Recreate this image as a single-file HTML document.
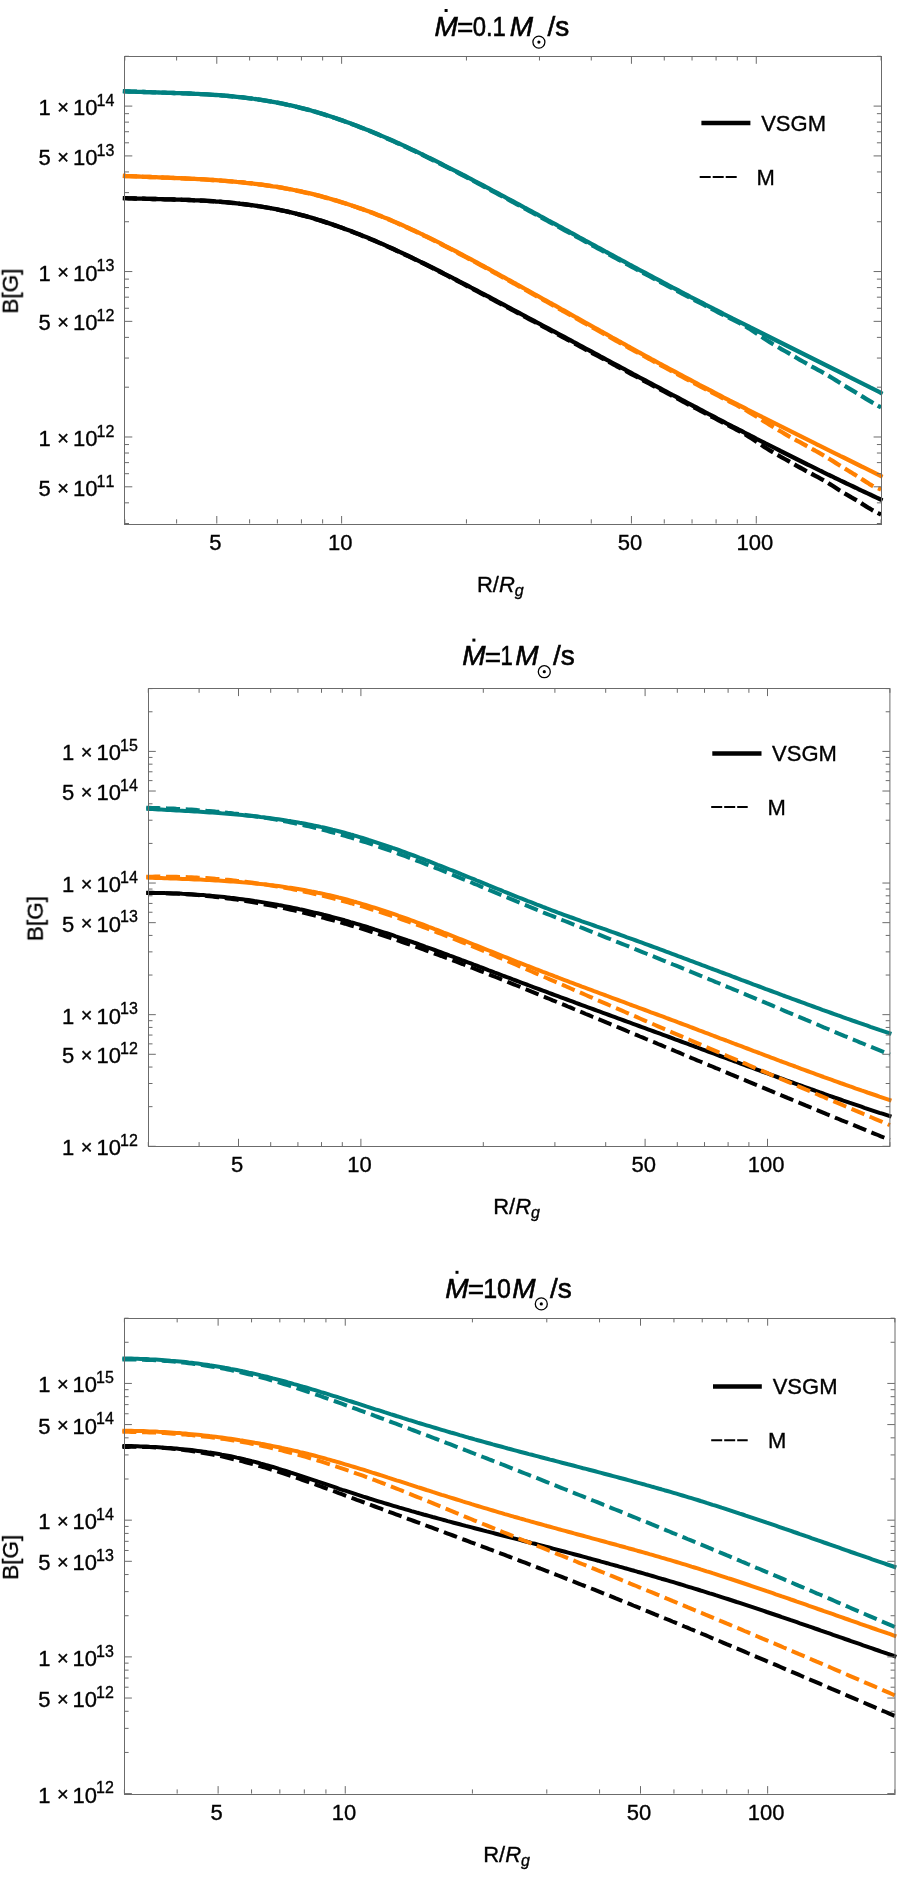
<!DOCTYPE html>
<html><head><meta charset="utf-8"><title>B vs R</title>
<style>html,body{margin:0;padding:0;background:#fff;width:900px;height:1877px;overflow:hidden} text{font-kerning:none;stroke:#000;stroke-width:0.35px} .tt text{stroke-width:0.6px}</style>
</head><body>
<svg width="900" height="1877" viewBox="0 0 900 1877" style="display:block">
<rect width="900" height="1877" fill="#fff"/>
<g opacity="0.999">
<defs><clipPath id="clip0"><rect x="122.3" y="53.3" width="761.3000000000001" height="473.2"/></clipPath></defs>
<g clip-path="url(#clip0)"><path d="M122.8,198.1 L125.8,198.2 L128.8,198.3 L131.8,198.4 L134.8,198.5 L137.8,198.6 L140.8,198.7 L143.8,198.7 L146.8,198.8 L149.8,198.9 L152.8,199.0 L155.8,199.0 L158.8,199.1 L161.8,199.2 L164.8,199.3 L167.8,199.3 L170.9,199.4 L173.9,199.5 L176.9,199.6 L179.9,199.7 L182.9,199.8 L185.9,199.9 L188.9,200.0 L191.9,200.1 L194.9,200.3 L197.9,200.4 L200.9,200.5 L203.9,200.7 L206.9,200.9 L209.9,201.0 L212.9,201.2 L215.9,201.5 L218.9,201.7 L221.9,201.9 L224.9,202.2 L227.9,202.4 L230.9,202.7 L233.9,203.0 L236.9,203.3 L239.9,203.7 L242.9,204.0 L245.9,204.4 L248.9,204.8 L251.9,205.2 L254.9,205.6 L257.9,206.0 L260.9,206.5 L263.9,207.0 L267.0,207.5 L270.0,208.0 L273.0,208.6 L276.0,209.2 L279.0,209.8 L282.0,210.4 L285.0,211.0 L288.0,211.7 L291.0,212.4 L294.0,213.1 L297.0,213.8 L300.0,214.6 L303.0,215.4 L306.0,216.2 L309.0,217.0 L312.0,217.9 L315.0,218.8 L318.0,219.7 L321.0,220.6 L324.0,221.6 L327.0,222.6 L330.0,223.6 L333.0,224.6 L336.0,225.6 L339.0,226.7 L342.0,227.8 L345.0,228.9 L348.0,230.0 L351.0,231.1 L354.0,232.3 L357.0,233.5 L360.0,234.6 L363.1,235.9 L366.1,237.1 L369.1,238.3 L372.1,239.6 L375.1,240.8 L378.1,242.1 L381.1,243.4 L384.1,244.8 L387.1,246.1 L390.1,247.4 L393.1,248.8 L396.1,250.2 L399.1,251.6 L402.1,253.0 L405.1,254.4 L408.1,255.8 L411.1,257.2 L414.1,258.7 L417.1,260.1 L420.1,261.6 L423.1,263.0 L426.1,264.5 L429.1,266.0 L432.1,267.5 L435.1,269.0 L438.1,270.5 L441.1,272.0 L444.1,273.6 L447.1,275.1 L450.1,276.6 L453.1,278.2 L456.2,279.7 L459.2,281.3 L462.2,282.9 L465.2,284.4 L468.2,286.0 L471.2,287.6 L474.2,289.1 L477.2,290.7 L480.2,292.3 L483.2,293.9 L486.2,295.5 L489.2,297.0 L492.2,298.6 L495.2,300.2 L498.2,301.8 L501.2,303.4 L504.2,305.0 L507.2,306.6 L510.2,308.2 L513.2,309.8 L516.2,311.4 L519.2,313.0 L522.2,314.6 L525.2,316.2 L528.2,317.8 L531.2,319.4 L534.2,321.0 L537.2,322.6 L540.2,324.2 L543.2,325.8 L546.2,327.4 L549.2,329.0 L552.3,330.6 L555.3,332.2 L558.3,333.8 L561.3,335.4 L564.3,337.0 L567.3,338.6 L570.3,340.2 L573.3,341.9 L576.3,343.5 L579.3,345.1 L582.3,346.7 L585.3,348.3 L588.3,349.9 L591.3,351.5 L594.3,353.1 L597.3,354.7 L600.3,356.4 L603.3,358.0 L606.3,359.6 L609.3,361.2 L612.3,362.8 L615.3,364.4 L618.3,366.0 L621.3,367.6 L624.3,369.2 L627.3,370.8 L630.3,372.4 L633.3,374.1 L636.3,375.7 L639.3,377.3 L642.3,378.9 L645.4,380.5 L648.4,382.1 L651.4,383.7 L654.4,385.3 L657.4,386.9 L660.4,388.5 L663.4,390.1 L666.4,391.7 L669.4,393.3 L672.4,394.9 L675.4,396.4 L678.4,398.0 L681.4,399.6 L684.4,401.2 L687.4,402.8 L690.4,404.4 L693.4,406.0 L696.4,407.5 L699.4,409.1 L702.4,410.7 L705.4,412.3 L708.4,413.9 L711.4,415.4 L714.4,417.0 L717.4,418.6 L720.4,420.1 L723.4,421.7 L726.4,423.3 L729.4,424.8 L732.4,426.4 L735.4,427.9 L738.4,429.5 L741.5,431.0 L744.5,432.6 L747.5,434.1 L750.5,435.7 L753.5,437.2 L756.5,438.8 L759.5,440.3 L762.5,441.8 L765.5,443.4 L768.5,444.9 L771.5,446.4 L774.5,447.9 L777.5,449.4 L780.5,451.0 L783.5,452.5 L786.5,454.0 L789.5,455.5 L792.5,457.0 L795.5,458.5 L798.5,460.0 L801.5,461.5 L804.5,463.0 L807.5,464.5 L810.5,465.9 L813.5,467.4 L816.5,468.9 L819.5,470.4 L822.5,471.8 L825.5,473.3 L828.5,474.8 L831.5,476.2 L834.5,477.7 L837.6,479.1 L840.6,480.6 L843.6,482.0 L846.6,483.5 L849.6,484.9 L852.6,486.3 L855.6,487.7 L858.6,489.2 L861.6,490.6 L864.6,492.0 L867.6,493.4 L870.6,494.8 L873.6,496.2 L876.6,497.6 L879.6,499.0 L882.6,500.4" fill="none" stroke="#000000" stroke-width="4.3" stroke-linejoin="round"/><path d="M122.8,175.8 L125.8,176.0 L128.8,176.1 L131.8,176.2 L134.8,176.4 L137.8,176.5 L140.8,176.6 L143.8,176.8 L146.8,176.9 L149.8,177.0 L152.8,177.1 L155.8,177.2 L158.8,177.4 L161.8,177.5 L164.8,177.6 L167.8,177.7 L170.9,177.8 L173.9,177.9 L176.9,178.1 L179.9,178.2 L182.9,178.3 L185.9,178.5 L188.9,178.6 L191.9,178.8 L194.9,178.9 L197.9,179.1 L200.9,179.2 L203.9,179.4 L206.9,179.6 L209.9,179.8 L212.9,180.0 L215.9,180.2 L218.9,180.4 L221.9,180.6 L224.9,180.8 L227.9,181.1 L230.9,181.3 L233.9,181.6 L236.9,181.9 L239.9,182.1 L242.9,182.4 L245.9,182.8 L248.9,183.1 L251.9,183.4 L254.9,183.8 L257.9,184.2 L260.9,184.5 L263.9,184.9 L267.0,185.4 L270.0,185.8 L273.0,186.3 L276.0,186.7 L279.0,187.2 L282.0,187.7 L285.0,188.3 L288.0,188.8 L291.0,189.4 L294.0,190.0 L297.0,190.6 L300.0,191.2 L303.0,191.9 L306.0,192.5 L309.0,193.2 L312.0,193.9 L315.0,194.7 L318.0,195.4 L321.0,196.2 L324.0,197.0 L327.0,197.8 L330.0,198.7 L333.0,199.6 L336.0,200.4 L339.0,201.3 L342.0,202.3 L345.0,203.2 L348.0,204.2 L351.0,205.2 L354.0,206.2 L357.0,207.2 L360.0,208.2 L363.1,209.3 L366.1,210.4 L369.1,211.5 L372.1,212.6 L375.1,213.8 L378.1,215.0 L381.1,216.1 L384.1,217.4 L387.1,218.6 L390.1,219.8 L393.1,221.1 L396.1,222.4 L399.1,223.7 L402.1,225.0 L405.1,226.4 L408.1,227.7 L411.1,229.1 L414.1,230.5 L417.1,231.9 L420.1,233.4 L423.1,234.8 L426.1,236.3 L429.1,237.7 L432.1,239.2 L435.1,240.7 L438.1,242.2 L441.1,243.7 L444.1,245.3 L447.1,246.8 L450.1,248.4 L453.1,249.9 L456.2,251.5 L459.2,253.1 L462.2,254.7 L465.2,256.3 L468.2,257.9 L471.2,259.5 L474.2,261.1 L477.2,262.7 L480.2,264.3 L483.2,265.9 L486.2,267.6 L489.2,269.2 L492.2,270.8 L495.2,272.5 L498.2,274.1 L501.2,275.8 L504.2,277.4 L507.2,279.1 L510.2,280.7 L513.2,282.4 L516.2,284.0 L519.2,285.7 L522.2,287.3 L525.2,289.0 L528.2,290.7 L531.2,292.3 L534.2,294.0 L537.2,295.7 L540.2,297.3 L543.2,299.0 L546.2,300.7 L549.2,302.4 L552.3,304.0 L555.3,305.7 L558.3,307.4 L561.3,309.1 L564.3,310.7 L567.3,312.4 L570.3,314.1 L573.3,315.8 L576.3,317.5 L579.3,319.1 L582.3,320.8 L585.3,322.5 L588.3,324.2 L591.3,325.8 L594.3,327.5 L597.3,329.2 L600.3,330.9 L603.3,332.5 L606.3,334.2 L609.3,335.9 L612.3,337.6 L615.3,339.2 L618.3,340.9 L621.3,342.5 L624.3,344.2 L627.3,345.9 L630.3,347.5 L633.3,349.2 L636.3,350.8 L639.3,352.5 L642.3,354.1 L645.4,355.8 L648.4,357.4 L651.4,359.1 L654.4,360.7 L657.4,362.3 L660.4,364.0 L663.4,365.6 L666.4,367.2 L669.4,368.8 L672.4,370.4 L675.4,372.0 L678.4,373.6 L681.4,375.2 L684.4,376.8 L687.4,378.4 L690.4,380.0 L693.4,381.6 L696.4,383.2 L699.4,384.8 L702.4,386.3 L705.4,387.9 L708.4,389.5 L711.4,391.0 L714.4,392.6 L717.4,394.2 L720.4,395.7 L723.4,397.3 L726.4,398.8 L729.4,400.4 L732.4,401.9 L735.4,403.4 L738.4,405.0 L741.5,406.5 L744.5,408.0 L747.5,409.6 L750.5,411.1 L753.5,412.6 L756.5,414.1 L759.5,415.6 L762.5,417.2 L765.5,418.7 L768.5,420.2 L771.5,421.7 L774.5,423.2 L777.5,424.7 L780.5,426.2 L783.5,427.7 L786.5,429.2 L789.5,430.7 L792.5,432.2 L795.5,433.7 L798.5,435.2 L801.5,436.7 L804.5,438.2 L807.5,439.7 L810.5,441.2 L813.5,442.7 L816.5,444.2 L819.5,445.6 L822.5,447.1 L825.5,448.6 L828.5,450.1 L831.5,451.6 L834.5,453.1 L837.6,454.6 L840.6,456.1 L843.6,457.5 L846.6,459.0 L849.6,460.5 L852.6,462.0 L855.6,463.5 L858.6,465.0 L861.6,466.5 L864.6,467.9 L867.6,469.4 L870.6,470.9 L873.6,472.4 L876.6,473.9 L879.6,475.4 L882.6,476.9" fill="none" stroke="#ff8000" stroke-width="4.3" stroke-linejoin="round"/><path d="M122.8,91.2 L125.8,91.4 L128.8,91.5 L131.8,91.6 L134.8,91.7 L137.8,91.8 L140.8,91.9 L143.8,92.0 L146.8,92.1 L149.8,92.2 L152.8,92.3 L155.8,92.4 L158.8,92.5 L161.8,92.6 L164.8,92.7 L167.8,92.8 L170.9,92.9 L173.9,93.0 L176.9,93.1 L179.9,93.2 L182.9,93.3 L185.9,93.4 L188.9,93.5 L191.9,93.6 L194.9,93.8 L197.9,93.9 L200.9,94.1 L203.9,94.2 L206.9,94.4 L209.9,94.6 L212.9,94.8 L215.9,95.0 L218.9,95.2 L221.9,95.4 L224.9,95.7 L227.9,95.9 L230.9,96.2 L233.9,96.5 L236.9,96.8 L239.9,97.1 L242.9,97.4 L245.9,97.8 L248.9,98.2 L251.9,98.5 L254.9,99.0 L257.9,99.4 L260.9,99.8 L263.9,100.3 L267.0,100.8 L270.0,101.3 L273.0,101.8 L276.0,102.3 L279.0,102.9 L282.0,103.5 L285.0,104.1 L288.0,104.8 L291.0,105.4 L294.0,106.1 L297.0,106.8 L300.0,107.6 L303.0,108.3 L306.0,109.1 L309.0,109.9 L312.0,110.8 L315.0,111.6 L318.0,112.5 L321.0,113.4 L324.0,114.3 L327.0,115.3 L330.0,116.2 L333.0,117.2 L336.0,118.2 L339.0,119.3 L342.0,120.3 L345.0,121.4 L348.0,122.5 L351.0,123.6 L354.0,124.7 L357.0,125.8 L360.0,127.0 L363.1,128.2 L366.1,129.4 L369.1,130.6 L372.1,131.8 L375.1,133.0 L378.1,134.3 L381.1,135.6 L384.1,136.9 L387.1,138.2 L390.1,139.5 L393.1,140.8 L396.1,142.2 L399.1,143.5 L402.1,144.9 L405.1,146.3 L408.1,147.7 L411.1,149.1 L414.1,150.5 L417.1,151.9 L420.1,153.4 L423.1,154.8 L426.1,156.3 L429.1,157.8 L432.1,159.2 L435.1,160.7 L438.1,162.2 L441.1,163.7 L444.1,165.3 L447.1,166.8 L450.1,168.3 L453.1,169.8 L456.2,171.4 L459.2,172.9 L462.2,174.5 L465.2,176.0 L468.2,177.6 L471.2,179.2 L474.2,180.8 L477.2,182.3 L480.2,183.9 L483.2,185.5 L486.2,187.1 L489.2,188.7 L492.2,190.3 L495.2,191.9 L498.2,193.5 L501.2,195.1 L504.2,196.7 L507.2,198.3 L510.2,199.9 L513.2,201.5 L516.2,203.1 L519.2,204.7 L522.2,206.3 L525.2,208.0 L528.2,209.6 L531.2,211.2 L534.2,212.8 L537.2,214.4 L540.2,216.1 L543.2,217.7 L546.2,219.3 L549.2,221.0 L552.3,222.6 L555.3,224.2 L558.3,225.9 L561.3,227.5 L564.3,229.1 L567.3,230.7 L570.3,232.4 L573.3,234.0 L576.3,235.6 L579.3,237.3 L582.3,238.9 L585.3,240.6 L588.3,242.2 L591.3,243.8 L594.3,245.4 L597.3,247.1 L600.3,248.7 L603.3,250.3 L606.3,252.0 L609.3,253.6 L612.3,255.2 L615.3,256.8 L618.3,258.5 L621.3,260.1 L624.3,261.7 L627.3,263.3 L630.3,265.0 L633.3,266.6 L636.3,268.2 L639.3,269.8 L642.3,271.4 L645.4,273.0 L648.4,274.6 L651.4,276.2 L654.4,277.8 L657.4,279.4 L660.4,281.0 L663.4,282.6 L666.4,284.2 L669.4,285.8 L672.4,287.4 L675.4,288.9 L678.4,290.5 L681.4,292.1 L684.4,293.7 L687.4,295.2 L690.4,296.8 L693.4,298.3 L696.4,299.9 L699.4,301.5 L702.4,303.0 L705.4,304.6 L708.4,306.1 L711.4,307.6 L714.4,309.2 L717.4,310.7 L720.4,312.2 L723.4,313.8 L726.4,315.3 L729.4,316.8 L732.4,318.4 L735.4,319.9 L738.4,321.4 L741.5,322.9 L744.5,324.4 L747.5,325.9 L750.5,327.5 L753.5,329.0 L756.5,330.5 L759.5,332.0 L762.5,333.5 L765.5,335.0 L768.5,336.5 L771.5,338.0 L774.5,339.5 L777.5,341.0 L780.5,342.5 L783.5,344.0 L786.5,345.5 L789.5,347.0 L792.5,348.5 L795.5,350.0 L798.5,351.5 L801.5,353.0 L804.5,354.5 L807.5,356.0 L810.5,357.5 L813.5,359.0 L816.5,360.5 L819.5,362.0 L822.5,363.5 L825.5,365.0 L828.5,366.5 L831.5,368.0 L834.5,369.5 L837.6,371.0 L840.6,372.5 L843.6,374.0 L846.6,375.5 L849.6,377.1 L852.6,378.6 L855.6,380.1 L858.6,381.6 L861.6,383.1 L864.6,384.6 L867.6,386.1 L870.6,387.7 L873.6,389.2 L876.6,390.7 L879.6,392.2 L882.6,393.8" fill="none" stroke="#008080" stroke-width="4.3" stroke-linejoin="round"/><path d="M122.8,198.1 L125.8,198.2 L128.8,198.3 L131.8,198.4 L134.8,198.5 L137.8,198.6 L140.9,198.7 L143.9,198.7 L146.9,198.8 L149.9,198.9 L152.9,199.0 L155.9,199.0 L158.9,199.1 L161.9,199.2 L164.9,199.3 L167.9,199.3 L170.9,199.4 L174.0,199.5 L177.0,199.6 L180.0,199.7 L183.0,199.8 L186.0,199.9 L189.0,200.0 L192.0,200.2 L195.0,200.3 L198.0,200.4 L201.0,200.6 L204.0,200.7 L207.1,200.9 L210.1,201.1 L213.1,201.3 L216.1,201.5 L219.1,201.7 L222.1,202.0 L225.1,202.2 L228.1,202.5 L231.1,202.8 L234.1,203.1 L237.1,203.4 L240.2,203.8 L243.2,204.1 L246.2,204.5 L249.2,204.9 L252.2,205.3 L255.2,205.7 L258.2,206.2 L261.2,206.6 L264.2,207.1 L267.2,207.7 L270.2,208.2 L273.3,208.7 L276.3,209.3 L279.3,209.9 L282.3,210.6 L285.3,211.2 L288.3,211.9 L291.3,212.6 L294.3,213.3 L297.3,214.0 L300.3,214.8 L303.3,215.6 L306.4,216.4 L309.4,217.3 L312.4,218.2 L315.4,219.1 L318.4,220.0 L321.4,220.9 L324.4,221.9 L327.4,222.9 L330.4,223.9 L333.4,224.9 L336.4,226.0 L339.5,227.0 L342.5,228.1 L345.5,229.2 L348.5,230.4 L351.5,231.5 L354.5,232.7 L357.5,233.8 L360.5,235.0 L363.5,236.3 L366.5,237.5 L369.5,238.8 L372.6,240.0 L375.6,241.3 L378.6,242.6 L381.6,243.9 L384.6,245.3 L387.6,246.6 L390.6,248.0 L393.6,249.3 L396.6,250.7 L399.6,252.1 L402.6,253.5 L405.7,255.0 L408.7,256.4 L411.7,257.8 L414.7,259.3 L417.7,260.8 L420.7,262.2 L423.7,263.7 L426.7,265.2 L429.7,266.7 L432.7,268.2 L435.7,269.8 L438.8,271.3 L441.8,272.8 L444.8,274.4 L447.8,275.9 L450.8,277.5 L453.8,279.0 L456.8,280.6 L459.8,282.2 L462.8,283.7 L465.8,285.3 L468.8,286.9 L471.9,288.5 L474.9,290.1 L477.9,291.7 L480.9,293.3 L483.9,294.9 L486.9,296.5 L489.9,298.1 L492.9,299.7 L495.9,301.3 L498.9,302.9 L502.0,304.5 L505.0,306.1 L508.0,307.7 L511.0,309.3 L514.0,310.9 L517.0,312.5 L520.0,314.1 L523.0,315.7 L526.0,317.4 L529.0,319.0 L532.0,320.6 L535.1,322.2 L538.1,323.8 L541.1,325.4 L544.1,327.1 L547.1,328.7 L550.1,330.3 L553.1,331.9 L556.1,333.5 L559.1,335.2 L562.1,336.8 L565.1,338.4 L568.2,340.0 L571.2,341.7 L574.2,343.3 L577.2,344.9 L580.2,346.5 L583.2,348.1 L586.2,349.8 L589.2,351.4 L592.2,353.0 L595.2,354.6 L598.2,356.2 L601.3,357.9 L604.3,359.5 L607.3,361.1 L610.3,362.7 L613.3,364.3 L616.3,366.0 L619.3,367.6 L622.3,369.2 L625.3,370.8 L628.3,372.4 L631.3,374.0 L634.4,375.6 L637.4,377.2 L640.4,378.9 L643.4,380.5 L646.4,382.1 L649.4,383.7 L652.4,385.3 L655.4,386.9 L658.4,388.5 L661.4,390.1 L664.4,391.7 L667.5,393.3 L670.5,394.9 L673.5,396.5 L676.5,398.1 L679.5,399.7 L682.5,401.3 L685.5,402.9 L688.5,404.5 L691.5,406.1 L694.5,407.7 L697.5,409.2 L700.6,410.8 L703.6,412.4 L706.6,414.0 L709.6,415.6 L712.6,417.2 L715.6,418.7 L718.6,420.3 L721.6,421.9 L724.6,423.5 L727.6,425.0 L730.6,426.6 L733.7,428.2 L736.7,429.8 L739.7,431.3 L742.7,432.9 L745.7,434.7 L748.7,436.6 L751.7,438.5 L754.7,440.5 L757.7,442.5 L760.7,444.5 L763.7,446.6 L766.8,448.5 L769.8,450.4 L772.8,452.2 L775.8,454.0 L778.8,455.7 L781.8,457.3 L784.8,459.0 L787.8,460.7 L790.8,462.4 L793.8,464.1 L796.8,465.8 L799.9,467.5 L802.9,469.1 L805.9,470.8 L808.9,472.4 L811.9,474.0 L814.9,475.6 L817.9,477.2 L820.9,478.8 L823.9,480.5 L826.9,482.2 L829.9,484.1 L833.0,486.0 L836.0,488.0 L839.0,490.0 L842.0,491.8 L845.0,493.6 L848.0,495.3 L851.0,497.1 L854.0,498.8 L857.0,500.6 L860.0,502.4 L863.0,504.4 L866.1,506.3 L869.1,508.2 L872.1,510.0 L875.1,511.6 L878.1,513.1 L881.1,514.5" fill="none" stroke="#000000" stroke-width="4.3" stroke-dasharray="14.2 5.1" stroke-linejoin="round"/><path d="M122.8,175.8 L125.8,176.0 L128.8,176.1 L131.8,176.3 L134.8,176.4 L137.8,176.5 L140.9,176.6 L143.9,176.8 L146.9,176.9 L149.9,177.0 L152.9,177.1 L155.9,177.2 L158.9,177.4 L161.9,177.5 L164.9,177.6 L167.9,177.7 L170.9,177.8 L174.0,178.0 L177.0,178.1 L180.0,178.2 L183.0,178.4 L186.0,178.5 L189.0,178.6 L192.0,178.8 L195.0,178.9 L198.0,179.1 L201.0,179.3 L204.0,179.4 L207.1,179.6 L210.1,179.8 L213.1,180.0 L216.1,180.2 L219.1,180.4 L222.1,180.7 L225.1,180.9 L228.1,181.1 L231.1,181.4 L234.1,181.7 L237.1,181.9 L240.2,182.2 L243.2,182.5 L246.2,182.9 L249.2,183.2 L252.2,183.5 L255.2,183.9 L258.2,184.3 L261.2,184.7 L264.2,185.1 L267.2,185.5 L270.2,185.9 L273.3,186.4 L276.3,186.9 L279.3,187.4 L282.3,187.9 L285.3,188.4 L288.3,189.0 L291.3,189.6 L294.3,190.2 L297.3,190.8 L300.3,191.4 L303.3,192.1 L306.4,192.8 L309.4,193.5 L312.4,194.2 L315.4,194.9 L318.4,195.7 L321.4,196.5 L324.4,197.3 L327.4,198.1 L330.4,199.0 L333.4,199.9 L336.4,200.7 L339.5,201.7 L342.5,202.6 L345.5,203.5 L348.5,204.5 L351.5,205.5 L354.5,206.5 L357.5,207.6 L360.5,208.6 L363.5,209.7 L366.5,210.8 L369.5,211.9 L372.6,213.1 L375.6,214.2 L378.6,215.4 L381.6,216.6 L384.6,217.8 L387.6,219.1 L390.6,220.3 L393.6,221.6 L396.6,222.9 L399.6,224.3 L402.6,225.6 L405.7,227.0 L408.7,228.3 L411.7,229.7 L414.7,231.1 L417.7,232.6 L420.7,234.0 L423.7,235.5 L426.7,236.9 L429.7,238.4 L432.7,239.9 L435.7,241.4 L438.8,243.0 L441.8,244.5 L444.8,246.1 L447.8,247.6 L450.8,249.2 L453.8,250.8 L456.8,252.4 L459.8,254.0 L462.8,255.6 L465.8,257.2 L468.8,258.8 L471.9,260.4 L474.9,262.0 L477.9,263.7 L480.9,265.3 L483.9,266.9 L486.9,268.6 L489.9,270.2 L492.9,271.9 L495.9,273.5 L498.9,275.2 L502.0,276.9 L505.0,278.5 L508.0,280.2 L511.0,281.9 L514.0,283.5 L517.0,285.2 L520.0,286.9 L523.0,288.5 L526.0,290.2 L529.0,291.9 L532.0,293.6 L535.1,295.3 L538.1,297.0 L541.1,298.6 L544.1,300.3 L547.1,302.0 L550.1,303.7 L553.1,305.4 L556.1,307.1 L559.1,308.8 L562.1,310.5 L565.1,312.1 L568.2,313.8 L571.2,315.5 L574.2,317.2 L577.2,318.9 L580.2,320.6 L583.2,322.3 L586.2,324.0 L589.2,325.7 L592.2,327.3 L595.2,329.0 L598.2,330.7 L601.3,332.4 L604.3,334.1 L607.3,335.8 L610.3,337.4 L613.3,339.1 L616.3,340.8 L619.3,342.5 L622.3,344.1 L625.3,345.8 L628.3,347.5 L631.3,349.1 L634.4,350.8 L637.4,352.4 L640.4,354.1 L643.4,355.7 L646.4,357.4 L649.4,359.0 L652.4,360.7 L655.4,362.3 L658.4,364.0 L661.4,365.6 L664.4,367.2 L667.5,368.8 L670.5,370.5 L673.5,372.1 L676.5,373.7 L679.5,375.3 L682.5,376.9 L685.5,378.5 L688.5,380.1 L691.5,381.7 L694.5,383.3 L697.5,384.9 L700.6,386.5 L703.6,388.1 L706.6,389.6 L709.6,391.2 L712.6,392.8 L715.6,394.3 L718.6,395.9 L721.6,397.5 L724.6,399.0 L727.6,400.6 L730.6,402.1 L733.7,403.7 L736.7,405.2 L739.7,406.8 L742.7,408.4 L745.7,410.0 L748.7,411.8 L751.7,413.6 L754.7,415.4 L757.7,417.3 L760.7,419.2 L763.7,421.1 L766.8,423.0 L769.8,424.9 L772.8,426.7 L775.8,428.5 L778.8,430.3 L781.8,432.0 L784.8,433.8 L787.8,435.6 L790.8,437.3 L793.8,438.9 L796.8,440.6 L799.9,442.2 L802.9,443.9 L805.9,445.5 L808.9,447.2 L811.9,448.9 L814.9,450.5 L817.9,452.2 L820.9,453.9 L823.9,455.6 L826.9,457.4 L829.9,459.3 L833.0,461.2 L836.0,463.1 L839.0,465.0 L842.0,466.9 L845.0,468.7 L848.0,470.5 L851.0,472.3 L854.0,474.2 L857.0,476.0 L860.0,477.9 L863.0,479.9 L866.1,481.9 L869.1,483.8 L872.1,485.6 L875.1,487.2 L878.1,488.3 L881.1,489.5" fill="none" stroke="#ff8000" stroke-width="4.3" stroke-dasharray="14.2 5.1" stroke-linejoin="round"/><path d="M122.8,91.2 L125.8,91.4 L128.8,91.5 L131.8,91.6 L134.8,91.7 L137.8,91.8 L140.9,91.9 L143.9,92.0 L146.9,92.1 L149.9,92.2 L152.9,92.3 L155.9,92.4 L158.9,92.5 L161.9,92.6 L164.9,92.7 L167.9,92.8 L170.9,92.9 L174.0,93.0 L177.0,93.1 L180.0,93.2 L183.0,93.3 L186.0,93.4 L189.0,93.5 L192.0,93.7 L195.0,93.8 L198.0,93.9 L201.0,94.1 L204.0,94.3 L207.1,94.4 L210.1,94.6 L213.1,94.8 L216.1,95.0 L219.1,95.2 L222.1,95.5 L225.1,95.7 L228.1,96.0 L231.1,96.3 L234.1,96.6 L237.1,96.9 L240.2,97.2 L243.2,97.5 L246.2,97.9 L249.2,98.3 L252.2,98.7 L255.2,99.1 L258.2,99.5 L261.2,99.9 L264.2,100.4 L267.2,100.9 L270.2,101.4 L273.3,102.0 L276.3,102.5 L279.3,103.1 L282.3,103.7 L285.3,104.3 L288.3,105.0 L291.3,105.6 L294.3,106.3 L297.3,107.0 L300.3,107.8 L303.3,108.6 L306.4,109.4 L309.4,110.2 L312.4,111.0 L315.4,111.9 L318.4,112.8 L321.4,113.7 L324.4,114.6 L327.4,115.6 L330.4,116.5 L333.4,117.5 L336.4,118.5 L339.5,119.6 L342.5,120.6 L345.5,121.7 L348.5,122.8 L351.5,123.9 L354.5,125.1 L357.5,126.2 L360.5,127.4 L363.5,128.6 L366.5,129.8 L369.5,131.0 L372.6,132.2 L375.6,133.5 L378.6,134.8 L381.6,136.1 L384.6,137.4 L387.6,138.7 L390.6,140.0 L393.6,141.4 L396.6,142.7 L399.6,144.1 L402.6,145.5 L405.7,146.9 L408.7,148.3 L411.7,149.7 L414.7,151.1 L417.7,152.6 L420.7,154.0 L423.7,155.5 L426.7,157.0 L429.7,158.5 L432.7,160.0 L435.7,161.5 L438.8,163.0 L441.8,164.5 L444.8,166.0 L447.8,167.6 L450.8,169.1 L453.8,170.7 L456.8,172.2 L459.8,173.8 L462.8,175.4 L465.8,176.9 L468.8,178.5 L471.9,180.1 L474.9,181.7 L477.9,183.3 L480.9,184.9 L483.9,186.5 L486.9,188.1 L489.9,189.7 L492.9,191.3 L495.9,192.9 L498.9,194.5 L502.0,196.2 L505.0,197.8 L508.0,199.4 L511.0,201.0 L514.0,202.6 L517.0,204.3 L520.0,205.9 L523.0,207.5 L526.0,209.2 L529.0,210.8 L532.0,212.4 L535.1,214.1 L538.1,215.7 L541.1,217.4 L544.1,219.0 L547.1,220.6 L550.1,222.3 L553.1,223.9 L556.1,225.6 L559.1,227.2 L562.1,228.9 L565.1,230.5 L568.2,232.2 L571.2,233.8 L574.2,235.4 L577.2,237.1 L580.2,238.7 L583.2,240.4 L586.2,242.0 L589.2,243.7 L592.2,245.3 L595.2,246.9 L598.2,248.6 L601.3,250.2 L604.3,251.9 L607.3,253.5 L610.3,255.1 L613.3,256.8 L616.3,258.4 L619.3,260.0 L622.3,261.7 L625.3,263.3 L628.3,264.9 L631.3,266.5 L634.4,268.2 L637.4,269.8 L640.4,271.4 L643.4,273.0 L646.4,274.6 L649.4,276.2 L652.4,277.8 L655.4,279.4 L658.4,281.0 L661.4,282.6 L664.4,284.2 L667.5,285.8 L670.5,287.4 L673.5,289.0 L676.5,290.6 L679.5,292.2 L682.5,293.8 L685.5,295.3 L688.5,296.9 L691.5,298.5 L694.5,300.0 L697.5,301.6 L700.6,303.2 L703.6,304.7 L706.6,306.3 L709.6,307.8 L712.6,309.4 L715.6,310.9 L718.6,312.5 L721.6,314.0 L724.6,315.5 L727.6,317.1 L730.6,318.6 L733.7,320.1 L736.7,321.7 L739.7,323.2 L742.7,324.8 L745.7,326.5 L748.7,328.3 L751.7,330.2 L754.7,332.2 L757.7,334.2 L760.7,336.2 L763.7,338.2 L766.8,340.2 L769.8,342.1 L772.8,344.0 L775.8,345.8 L778.8,347.5 L781.8,349.3 L784.8,351.0 L787.8,352.7 L790.8,354.5 L793.8,356.2 L796.8,358.0 L799.9,359.8 L802.9,361.5 L805.9,363.2 L808.9,364.9 L811.9,366.6 L814.9,368.2 L817.9,369.8 L820.9,371.4 L823.9,373.1 L826.9,374.8 L829.9,376.6 L833.0,378.5 L836.0,380.4 L839.0,382.3 L842.0,384.2 L845.0,386.0 L848.0,387.8 L851.0,389.6 L854.0,391.4 L857.0,393.2 L860.0,395.1 L863.0,396.9 L866.1,398.8 L869.1,400.6 L872.1,402.4 L875.1,404.1 L878.1,405.8 L881.1,407.4" fill="none" stroke="#008080" stroke-width="4.3" stroke-dasharray="14.2 5.1" stroke-linejoin="round"/></g>
<rect x="124.5" y="56.5" width="757.00" height="468.00" fill="none" stroke="#6b6b6b" stroke-width="1"/>
<line x1="124.80" y1="523.5" x2="124.80" y2="519.3" stroke="#6b6b6b" stroke-width="1"/><line x1="124.80" y1="56.3" x2="124.80" y2="60.5" stroke="#6b6b6b" stroke-width="1"/><line x1="176.61" y1="523.5" x2="176.61" y2="519.3" stroke="#6b6b6b" stroke-width="1"/><line x1="176.61" y1="56.3" x2="176.61" y2="60.5" stroke="#6b6b6b" stroke-width="1"/><line x1="216.79" y1="523.5" x2="216.79" y2="516.0" stroke="#6b6b6b" stroke-width="1"/><line x1="216.79" y1="56.3" x2="216.79" y2="63.8" stroke="#6b6b6b" stroke-width="1"/><line x1="249.62" y1="523.5" x2="249.62" y2="519.3" stroke="#6b6b6b" stroke-width="1"/><line x1="249.62" y1="56.3" x2="249.62" y2="60.5" stroke="#6b6b6b" stroke-width="1"/><line x1="277.38" y1="523.5" x2="277.38" y2="519.3" stroke="#6b6b6b" stroke-width="1"/><line x1="277.38" y1="56.3" x2="277.38" y2="60.5" stroke="#6b6b6b" stroke-width="1"/><line x1="301.43" y1="523.5" x2="301.43" y2="519.3" stroke="#6b6b6b" stroke-width="1"/><line x1="301.43" y1="56.3" x2="301.43" y2="60.5" stroke="#6b6b6b" stroke-width="1"/><line x1="322.64" y1="523.5" x2="322.64" y2="519.3" stroke="#6b6b6b" stroke-width="1"/><line x1="322.64" y1="56.3" x2="322.64" y2="60.5" stroke="#6b6b6b" stroke-width="1"/><line x1="341.62" y1="523.5" x2="341.62" y2="516.0" stroke="#6b6b6b" stroke-width="1"/><line x1="341.62" y1="56.3" x2="341.62" y2="63.8" stroke="#6b6b6b" stroke-width="1"/><line x1="466.44" y1="523.5" x2="466.44" y2="519.3" stroke="#6b6b6b" stroke-width="1"/><line x1="466.44" y1="56.3" x2="466.44" y2="60.5" stroke="#6b6b6b" stroke-width="1"/><line x1="539.46" y1="523.5" x2="539.46" y2="519.3" stroke="#6b6b6b" stroke-width="1"/><line x1="539.46" y1="56.3" x2="539.46" y2="60.5" stroke="#6b6b6b" stroke-width="1"/><line x1="591.27" y1="523.5" x2="591.27" y2="519.3" stroke="#6b6b6b" stroke-width="1"/><line x1="591.27" y1="56.3" x2="591.27" y2="60.5" stroke="#6b6b6b" stroke-width="1"/><line x1="631.45" y1="523.5" x2="631.45" y2="516.0" stroke="#6b6b6b" stroke-width="1"/><line x1="631.45" y1="56.3" x2="631.45" y2="63.8" stroke="#6b6b6b" stroke-width="1"/><line x1="664.28" y1="523.5" x2="664.28" y2="519.3" stroke="#6b6b6b" stroke-width="1"/><line x1="664.28" y1="56.3" x2="664.28" y2="60.5" stroke="#6b6b6b" stroke-width="1"/><line x1="692.04" y1="523.5" x2="692.04" y2="519.3" stroke="#6b6b6b" stroke-width="1"/><line x1="692.04" y1="56.3" x2="692.04" y2="60.5" stroke="#6b6b6b" stroke-width="1"/><line x1="716.09" y1="523.5" x2="716.09" y2="519.3" stroke="#6b6b6b" stroke-width="1"/><line x1="716.09" y1="56.3" x2="716.09" y2="60.5" stroke="#6b6b6b" stroke-width="1"/><line x1="737.30" y1="523.5" x2="737.30" y2="519.3" stroke="#6b6b6b" stroke-width="1"/><line x1="737.30" y1="56.3" x2="737.30" y2="60.5" stroke="#6b6b6b" stroke-width="1"/><line x1="756.28" y1="523.5" x2="756.28" y2="516.0" stroke="#6b6b6b" stroke-width="1"/><line x1="756.28" y1="56.3" x2="756.28" y2="63.8" stroke="#6b6b6b" stroke-width="1"/><line x1="881.10" y1="523.5" x2="881.10" y2="519.3" stroke="#6b6b6b" stroke-width="1"/><line x1="881.10" y1="56.3" x2="881.10" y2="60.5" stroke="#6b6b6b" stroke-width="1"/><line x1="124.8" y1="523.50" x2="129.0" y2="523.50" stroke="#6b6b6b" stroke-width="1"/><line x1="881.1" y1="523.50" x2="876.9" y2="523.50" stroke="#6b6b6b" stroke-width="1"/><line x1="124.8" y1="502.83" x2="129.0" y2="502.83" stroke="#6b6b6b" stroke-width="1"/><line x1="881.1" y1="502.83" x2="876.9" y2="502.83" stroke="#6b6b6b" stroke-width="1"/><line x1="124.8" y1="486.80" x2="132.3" y2="486.80" stroke="#6b6b6b" stroke-width="1"/><line x1="881.1" y1="486.80" x2="873.6" y2="486.80" stroke="#6b6b6b" stroke-width="1"/><line x1="124.8" y1="473.70" x2="129.0" y2="473.70" stroke="#6b6b6b" stroke-width="1"/><line x1="881.1" y1="473.70" x2="876.9" y2="473.70" stroke="#6b6b6b" stroke-width="1"/><line x1="124.8" y1="462.62" x2="129.0" y2="462.62" stroke="#6b6b6b" stroke-width="1"/><line x1="881.1" y1="462.62" x2="876.9" y2="462.62" stroke="#6b6b6b" stroke-width="1"/><line x1="124.8" y1="453.03" x2="129.0" y2="453.03" stroke="#6b6b6b" stroke-width="1"/><line x1="881.1" y1="453.03" x2="876.9" y2="453.03" stroke="#6b6b6b" stroke-width="1"/><line x1="124.8" y1="444.56" x2="129.0" y2="444.56" stroke="#6b6b6b" stroke-width="1"/><line x1="881.1" y1="444.56" x2="876.9" y2="444.56" stroke="#6b6b6b" stroke-width="1"/><line x1="124.8" y1="436.99" x2="132.3" y2="436.99" stroke="#6b6b6b" stroke-width="1"/><line x1="881.1" y1="436.99" x2="873.6" y2="436.99" stroke="#6b6b6b" stroke-width="1"/><line x1="124.8" y1="387.19" x2="129.0" y2="387.19" stroke="#6b6b6b" stroke-width="1"/><line x1="881.1" y1="387.19" x2="876.9" y2="387.19" stroke="#6b6b6b" stroke-width="1"/><line x1="124.8" y1="358.06" x2="129.0" y2="358.06" stroke="#6b6b6b" stroke-width="1"/><line x1="881.1" y1="358.06" x2="876.9" y2="358.06" stroke="#6b6b6b" stroke-width="1"/><line x1="124.8" y1="337.39" x2="129.0" y2="337.39" stroke="#6b6b6b" stroke-width="1"/><line x1="881.1" y1="337.39" x2="876.9" y2="337.39" stroke="#6b6b6b" stroke-width="1"/><line x1="124.8" y1="321.35" x2="132.3" y2="321.35" stroke="#6b6b6b" stroke-width="1"/><line x1="881.1" y1="321.35" x2="873.6" y2="321.35" stroke="#6b6b6b" stroke-width="1"/><line x1="124.8" y1="308.25" x2="129.0" y2="308.25" stroke="#6b6b6b" stroke-width="1"/><line x1="881.1" y1="308.25" x2="876.9" y2="308.25" stroke="#6b6b6b" stroke-width="1"/><line x1="124.8" y1="297.18" x2="129.0" y2="297.18" stroke="#6b6b6b" stroke-width="1"/><line x1="881.1" y1="297.18" x2="876.9" y2="297.18" stroke="#6b6b6b" stroke-width="1"/><line x1="124.8" y1="287.58" x2="129.0" y2="287.58" stroke="#6b6b6b" stroke-width="1"/><line x1="881.1" y1="287.58" x2="876.9" y2="287.58" stroke="#6b6b6b" stroke-width="1"/><line x1="124.8" y1="279.12" x2="129.0" y2="279.12" stroke="#6b6b6b" stroke-width="1"/><line x1="881.1" y1="279.12" x2="876.9" y2="279.12" stroke="#6b6b6b" stroke-width="1"/><line x1="124.8" y1="271.55" x2="132.3" y2="271.55" stroke="#6b6b6b" stroke-width="1"/><line x1="881.1" y1="271.55" x2="873.6" y2="271.55" stroke="#6b6b6b" stroke-width="1"/><line x1="124.8" y1="221.74" x2="129.0" y2="221.74" stroke="#6b6b6b" stroke-width="1"/><line x1="881.1" y1="221.74" x2="876.9" y2="221.74" stroke="#6b6b6b" stroke-width="1"/><line x1="124.8" y1="192.61" x2="129.0" y2="192.61" stroke="#6b6b6b" stroke-width="1"/><line x1="881.1" y1="192.61" x2="876.9" y2="192.61" stroke="#6b6b6b" stroke-width="1"/><line x1="124.8" y1="171.94" x2="129.0" y2="171.94" stroke="#6b6b6b" stroke-width="1"/><line x1="881.1" y1="171.94" x2="876.9" y2="171.94" stroke="#6b6b6b" stroke-width="1"/><line x1="124.8" y1="155.91" x2="132.3" y2="155.91" stroke="#6b6b6b" stroke-width="1"/><line x1="881.1" y1="155.91" x2="873.6" y2="155.91" stroke="#6b6b6b" stroke-width="1"/><line x1="124.8" y1="142.81" x2="129.0" y2="142.81" stroke="#6b6b6b" stroke-width="1"/><line x1="881.1" y1="142.81" x2="876.9" y2="142.81" stroke="#6b6b6b" stroke-width="1"/><line x1="124.8" y1="131.73" x2="129.0" y2="131.73" stroke="#6b6b6b" stroke-width="1"/><line x1="881.1" y1="131.73" x2="876.9" y2="131.73" stroke="#6b6b6b" stroke-width="1"/><line x1="124.8" y1="122.14" x2="129.0" y2="122.14" stroke="#6b6b6b" stroke-width="1"/><line x1="881.1" y1="122.14" x2="876.9" y2="122.14" stroke="#6b6b6b" stroke-width="1"/><line x1="124.8" y1="113.67" x2="129.0" y2="113.67" stroke="#6b6b6b" stroke-width="1"/><line x1="881.1" y1="113.67" x2="876.9" y2="113.67" stroke="#6b6b6b" stroke-width="1"/><line x1="124.8" y1="106.10" x2="132.3" y2="106.10" stroke="#6b6b6b" stroke-width="1"/><line x1="881.1" y1="106.10" x2="873.6" y2="106.10" stroke="#6b6b6b" stroke-width="1"/><line x1="124.8" y1="56.30" x2="129.0" y2="56.30" stroke="#6b6b6b" stroke-width="1"/><line x1="881.1" y1="56.30" x2="876.9" y2="56.30" stroke="#6b6b6b" stroke-width="1"/>
<g font-family='"Liberation Sans", sans-serif' font-size="22" fill="#000"><text x="215.4" y="549.5" text-anchor="middle">5</text><text x="340.2" y="549.5" text-anchor="middle">10</text><text x="630.1" y="549.5" text-anchor="middle">50</text><text x="754.9" y="549.5" text-anchor="middle">100</text><text x="50.8" y="115.1" text-anchor="end">1</text><text x="57.3" y="113.9" font-size="20">×</text><text x="72.9" y="115.1">10</text><text x="114.3" y="105.8" font-size="16" text-anchor="end">14</text><text x="50.8" y="164.9" text-anchor="end">5</text><text x="57.3" y="163.7" font-size="20">×</text><text x="72.9" y="164.9">10</text><text x="114.3" y="155.6" font-size="16" text-anchor="end">13</text><text x="50.8" y="280.5" text-anchor="end">1</text><text x="57.3" y="279.3" font-size="20">×</text><text x="72.9" y="280.5">10</text><text x="114.3" y="271.2" font-size="16" text-anchor="end">13</text><text x="50.8" y="330.4" text-anchor="end">5</text><text x="57.3" y="329.1" font-size="20">×</text><text x="72.9" y="330.4">10</text><text x="114.3" y="321.1" font-size="16" text-anchor="end">12</text><text x="50.8" y="446.0" text-anchor="end">1</text><text x="57.3" y="444.8" font-size="20">×</text><text x="72.9" y="446.0">10</text><text x="114.3" y="436.7" font-size="16" text-anchor="end">12</text><text x="50.8" y="495.8" text-anchor="end">5</text><text x="57.3" y="494.6" font-size="20">×</text><text x="72.9" y="495.8">10</text><text x="114.3" y="486.5" font-size="16" text-anchor="end">11</text></g>
<text x="476.9" y="591.7" font-family='"Liberation Sans", sans-serif' font-size="22">R/<tspan font-style="italic">R</tspan><tspan font-style="italic" font-size="16" dy="4.2">g</tspan></text>
<text transform="translate(17.8,313.6) rotate(-90)" font-family='"Liberation Sans", sans-serif' font-size="22.5">B[G]</text>
<g font-family='"Liberation Sans", sans-serif' font-size="28" fill="#000" class="tt"><text x="434.43" y="35.7" font-style="italic">M</text><rect x="444.60" y="9.00" width="3" height="3" fill="#000"/><text x="456.93" y="37.2">=</text><text transform="translate(472.67,35.7) scale(0.853,1)" x="0" y="0">0.1</text><text x="509.83" y="35.7" font-style="italic">M</text><circle cx="538.90" cy="42.10" r="6.0" fill="none" stroke="#000" stroke-width="1.3"/><circle cx="538.90" cy="42.10" r="1.6" fill="#000"/><text x="547.60" y="35.7">/s</text></g>
<line x1="701.4" y1="123" x2="750.4" y2="123" stroke="#000" stroke-width="4.3"/>
<line x1="699.7" y1="177" x2="736.7" y2="177" stroke="#000" stroke-width="2" stroke-dasharray="11 2"/>
<text x="761.1999999999999" y="130.8" font-family='"Liberation Sans", sans-serif' font-size="22">VSGM</text>
<text x="756.5" y="184.7" font-family='"Liberation Sans", sans-serif' font-size="22">M</text>
<defs><clipPath id="clip1"><rect x="145.8" y="685.6" width="746.5999999999999" height="463.69999999999993"/></clipPath></defs>
<g clip-path="url(#clip1)"><path d="M146.3,892.8 L149.3,892.8 L152.3,892.8 L155.3,892.9 L158.3,892.9 L161.3,893.0 L164.3,893.1 L167.3,893.2 L170.3,893.3 L173.3,893.4 L176.3,893.5 L179.3,893.6 L182.4,893.8 L185.4,893.9 L188.4,894.1 L191.4,894.3 L194.4,894.5 L197.4,894.7 L200.4,894.9 L203.4,895.1 L206.4,895.4 L209.4,895.6 L212.4,895.9 L215.4,896.2 L218.4,896.5 L221.4,896.8 L224.4,897.1 L227.4,897.4 L230.4,897.8 L233.4,898.1 L236.4,898.5 L239.4,898.9 L242.4,899.3 L245.4,899.7 L248.5,900.1 L251.5,900.5 L254.5,901.0 L257.5,901.4 L260.5,901.9 L263.5,902.4 L266.5,902.9 L269.5,903.4 L272.5,903.9 L275.5,904.4 L278.5,905.0 L281.5,905.5 L284.5,906.1 L287.5,906.7 L290.5,907.3 L293.5,907.9 L296.5,908.5 L299.5,909.2 L302.5,909.8 L305.5,910.5 L308.5,911.2 L311.5,911.9 L314.5,912.6 L317.6,913.3 L320.6,914.0 L323.6,914.8 L326.6,915.5 L329.6,916.3 L332.6,917.1 L335.6,917.9 L338.6,918.7 L341.6,919.5 L344.6,920.3 L347.6,921.2 L350.6,922.1 L353.6,922.9 L356.6,923.8 L359.6,924.7 L362.6,925.6 L365.6,926.5 L368.6,927.5 L371.6,928.4 L374.6,929.4 L377.6,930.3 L380.6,931.3 L383.7,932.3 L386.7,933.2 L389.7,934.2 L392.7,935.2 L395.7,936.3 L398.7,937.3 L401.7,938.3 L404.7,939.3 L407.7,940.4 L410.7,941.4 L413.7,942.5 L416.7,943.5 L419.7,944.6 L422.7,945.7 L425.7,946.8 L428.7,947.8 L431.7,948.9 L434.7,950.0 L437.7,951.1 L440.7,952.2 L443.7,953.3 L446.7,954.4 L449.7,955.6 L452.8,956.7 L455.8,957.8 L458.8,958.9 L461.8,960.1 L464.8,961.2 L467.8,962.3 L470.8,963.4 L473.8,964.6 L476.8,965.7 L479.8,966.9 L482.8,968.0 L485.8,969.1 L488.8,970.3 L491.8,971.4 L494.8,972.6 L497.8,973.7 L500.8,974.8 L503.8,976.0 L506.8,977.1 L509.8,978.2 L512.8,979.4 L515.8,980.5 L518.8,981.6 L521.9,982.8 L524.9,983.9 L527.9,985.0 L530.9,986.2 L533.9,987.3 L536.9,988.4 L539.9,989.5 L542.9,990.6 L545.9,991.7 L548.9,992.9 L551.9,994.0 L554.9,995.1 L557.9,996.2 L560.9,997.3 L563.9,998.4 L566.9,999.5 L569.9,1000.6 L572.9,1001.7 L575.9,1002.9 L578.9,1004.0 L581.9,1005.1 L584.9,1006.2 L588.0,1007.3 L591.0,1008.4 L594.0,1009.5 L597.0,1010.6 L600.0,1011.7 L603.0,1012.8 L606.0,1013.9 L609.0,1015.0 L612.0,1016.1 L615.0,1017.2 L618.0,1018.3 L621.0,1019.4 L624.0,1020.5 L627.0,1021.6 L630.0,1022.7 L633.0,1023.8 L636.0,1024.9 L639.0,1026.0 L642.0,1027.1 L645.0,1028.2 L648.0,1029.3 L651.0,1030.4 L654.0,1031.5 L657.1,1032.6 L660.1,1033.7 L663.1,1034.8 L666.1,1035.9 L669.1,1037.0 L672.1,1038.1 L675.1,1039.3 L678.1,1040.4 L681.1,1041.5 L684.1,1042.6 L687.1,1043.7 L690.1,1044.8 L693.1,1045.9 L696.1,1047.0 L699.1,1048.2 L702.1,1049.3 L705.1,1050.4 L708.1,1051.5 L711.1,1052.6 L714.1,1053.7 L717.1,1054.9 L720.1,1056.0 L723.2,1057.1 L726.2,1058.2 L729.2,1059.3 L732.2,1060.4 L735.2,1061.5 L738.2,1062.7 L741.2,1063.8 L744.2,1064.9 L747.2,1066.0 L750.2,1067.1 L753.2,1068.2 L756.2,1069.3 L759.2,1070.4 L762.2,1071.5 L765.2,1072.6 L768.2,1073.7 L771.2,1074.8 L774.2,1075.9 L777.2,1077.0 L780.2,1078.1 L783.2,1079.2 L786.2,1080.3 L789.2,1081.4 L792.3,1082.5 L795.3,1083.6 L798.3,1084.7 L801.3,1085.7 L804.3,1086.8 L807.3,1087.9 L810.3,1089.0 L813.3,1090.0 L816.3,1091.1 L819.3,1092.2 L822.3,1093.2 L825.3,1094.3 L828.3,1095.4 L831.3,1096.4 L834.3,1097.5 L837.3,1098.5 L840.3,1099.5 L843.3,1100.6 L846.3,1101.6 L849.3,1102.7 L852.3,1103.7 L855.3,1104.7 L858.4,1105.7 L861.4,1106.7 L864.4,1107.8 L867.4,1108.8 L870.4,1109.8 L873.4,1110.8 L876.4,1111.8 L879.4,1112.8 L882.4,1113.7 L885.4,1114.7 L888.4,1115.7 L891.4,1116.7" fill="none" stroke="#000000" stroke-width="4.0" stroke-linejoin="round"/><path d="M146.3,877.6 L149.3,877.7 L152.3,877.8 L155.3,877.9 L158.3,878.0 L161.3,878.1 L164.3,878.2 L167.3,878.3 L170.3,878.4 L173.3,878.5 L176.3,878.6 L179.3,878.7 L182.4,878.9 L185.4,879.0 L188.4,879.1 L191.4,879.2 L194.4,879.4 L197.4,879.5 L200.4,879.6 L203.4,879.8 L206.4,879.9 L209.4,880.1 L212.4,880.2 L215.4,880.4 L218.4,880.6 L221.4,880.8 L224.4,881.0 L227.4,881.2 L230.4,881.4 L233.4,881.6 L236.4,881.8 L239.4,882.0 L242.4,882.3 L245.4,882.5 L248.5,882.8 L251.5,883.1 L254.5,883.4 L257.5,883.7 L260.5,884.0 L263.5,884.3 L266.5,884.6 L269.5,885.0 L272.5,885.3 L275.5,885.7 L278.5,886.1 L281.5,886.5 L284.5,886.9 L287.5,887.4 L290.5,887.8 L293.5,888.3 L296.5,888.8 L299.5,889.3 L302.5,889.8 L305.5,890.3 L308.5,890.9 L311.5,891.5 L314.5,892.0 L317.6,892.7 L320.6,893.3 L323.6,893.9 L326.6,894.6 L329.6,895.3 L332.6,896.0 L335.6,896.7 L338.6,897.5 L341.6,898.2 L344.6,899.0 L347.6,899.8 L350.6,900.6 L353.6,901.5 L356.6,902.3 L359.6,903.2 L362.6,904.1 L365.6,905.0 L368.6,905.9 L371.6,906.8 L374.6,907.7 L377.6,908.7 L380.6,909.7 L383.7,910.7 L386.7,911.7 L389.7,912.7 L392.7,913.7 L395.7,914.7 L398.7,915.8 L401.7,916.8 L404.7,917.9 L407.7,919.0 L410.7,920.1 L413.7,921.2 L416.7,922.3 L419.7,923.4 L422.7,924.5 L425.7,925.6 L428.7,926.8 L431.7,927.9 L434.7,929.1 L437.7,930.2 L440.7,931.4 L443.7,932.6 L446.7,933.7 L449.7,934.9 L452.8,936.1 L455.8,937.3 L458.8,938.5 L461.8,939.7 L464.8,940.9 L467.8,942.1 L470.8,943.3 L473.8,944.5 L476.8,945.7 L479.8,946.9 L482.8,948.1 L485.8,949.3 L488.8,950.5 L491.8,951.7 L494.8,952.9 L497.8,954.1 L500.8,955.3 L503.8,956.5 L506.8,957.7 L509.8,958.9 L512.8,960.1 L515.8,961.3 L518.8,962.5 L521.9,963.6 L524.9,964.8 L527.9,966.0 L530.9,967.1 L533.9,968.3 L536.9,969.5 L539.9,970.6 L542.9,971.8 L545.9,972.9 L548.9,974.1 L551.9,975.2 L554.9,976.4 L557.9,977.5 L560.9,978.7 L563.9,979.8 L566.9,980.9 L569.9,982.1 L572.9,983.2 L575.9,984.3 L578.9,985.4 L581.9,986.6 L584.9,987.7 L588.0,988.8 L591.0,989.9 L594.0,991.1 L597.0,992.2 L600.0,993.3 L603.0,994.4 L606.0,995.5 L609.0,996.7 L612.0,997.8 L615.0,998.9 L618.0,1000.0 L621.0,1001.1 L624.0,1002.2 L627.0,1003.3 L630.0,1004.5 L633.0,1005.6 L636.0,1006.7 L639.0,1007.8 L642.0,1008.9 L645.0,1010.0 L648.0,1011.1 L651.0,1012.3 L654.0,1013.4 L657.1,1014.5 L660.1,1015.6 L663.1,1016.7 L666.1,1017.9 L669.1,1019.0 L672.1,1020.1 L675.1,1021.2 L678.1,1022.4 L681.1,1023.5 L684.1,1024.6 L687.1,1025.7 L690.1,1026.9 L693.1,1028.0 L696.1,1029.1 L699.1,1030.3 L702.1,1031.4 L705.1,1032.6 L708.1,1033.7 L711.1,1034.8 L714.1,1036.0 L717.1,1037.1 L720.1,1038.3 L723.2,1039.4 L726.2,1040.5 L729.2,1041.7 L732.2,1042.8 L735.2,1044.0 L738.2,1045.1 L741.2,1046.2 L744.2,1047.4 L747.2,1048.5 L750.2,1049.6 L753.2,1050.8 L756.2,1051.9 L759.2,1053.0 L762.2,1054.2 L765.2,1055.3 L768.2,1056.4 L771.2,1057.6 L774.2,1058.7 L777.2,1059.8 L780.2,1061.0 L783.2,1062.1 L786.2,1063.2 L789.2,1064.3 L792.3,1065.4 L795.3,1066.5 L798.3,1067.7 L801.3,1068.8 L804.3,1069.9 L807.3,1071.0 L810.3,1072.1 L813.3,1073.2 L816.3,1074.3 L819.3,1075.4 L822.3,1076.5 L825.3,1077.6 L828.3,1078.7 L831.3,1079.7 L834.3,1080.8 L837.3,1081.9 L840.3,1083.0 L843.3,1084.0 L846.3,1085.1 L849.3,1086.2 L852.3,1087.2 L855.3,1088.3 L858.4,1089.3 L861.4,1090.4 L864.4,1091.4 L867.4,1092.5 L870.4,1093.5 L873.4,1094.5 L876.4,1095.5 L879.4,1096.6 L882.4,1097.6 L885.4,1098.6 L888.4,1099.6 L891.4,1100.6" fill="none" stroke="#ff8000" stroke-width="4.0" stroke-linejoin="round"/><path d="M146.3,808.7 L149.3,808.9 L152.3,809.0 L155.3,809.2 L158.3,809.4 L161.3,809.5 L164.3,809.7 L167.3,809.9 L170.3,810.0 L173.3,810.2 L176.3,810.4 L179.3,810.6 L182.4,810.7 L185.4,810.9 L188.4,811.1 L191.4,811.3 L194.4,811.4 L197.4,811.6 L200.4,811.8 L203.4,812.0 L206.4,812.2 L209.4,812.4 L212.4,812.6 L215.4,812.8 L218.4,813.0 L221.4,813.3 L224.4,813.5 L227.4,813.7 L230.4,814.0 L233.4,814.2 L236.4,814.5 L239.4,814.8 L242.4,815.1 L245.4,815.4 L248.5,815.7 L251.5,816.0 L254.5,816.3 L257.5,816.6 L260.5,817.0 L263.5,817.3 L266.5,817.7 L269.5,818.1 L272.5,818.5 L275.5,818.9 L278.5,819.3 L281.5,819.7 L284.5,820.2 L287.5,820.7 L290.5,821.1 L293.5,821.6 L296.5,822.1 L299.5,822.7 L302.5,823.2 L305.5,823.8 L308.5,824.4 L311.5,825.0 L314.5,825.6 L317.6,826.2 L320.6,826.9 L323.6,827.5 L326.6,828.2 L329.6,828.9 L332.6,829.7 L335.6,830.4 L338.6,831.2 L341.6,832.0 L344.6,832.8 L347.6,833.6 L350.6,834.5 L353.6,835.3 L356.6,836.2 L359.6,837.1 L362.6,838.0 L365.6,838.9 L368.6,839.9 L371.6,840.8 L374.6,841.8 L377.6,842.8 L380.6,843.8 L383.7,844.8 L386.7,845.8 L389.7,846.8 L392.7,847.9 L395.7,848.9 L398.7,850.0 L401.7,851.1 L404.7,852.2 L407.7,853.3 L410.7,854.4 L413.7,855.5 L416.7,856.6 L419.7,857.8 L422.7,858.9 L425.7,860.1 L428.7,861.2 L431.7,862.4 L434.7,863.6 L437.7,864.8 L440.7,865.9 L443.7,867.1 L446.7,868.3 L449.7,869.5 L452.8,870.7 L455.8,871.9 L458.8,873.1 L461.8,874.4 L464.8,875.6 L467.8,876.8 L470.8,878.0 L473.8,879.2 L476.8,880.5 L479.8,881.7 L482.8,882.9 L485.8,884.1 L488.8,885.4 L491.8,886.6 L494.8,887.8 L497.8,889.0 L500.8,890.2 L503.8,891.5 L506.8,892.7 L509.8,893.9 L512.8,895.1 L515.8,896.3 L518.8,897.5 L521.9,898.7 L524.9,899.9 L527.9,901.1 L530.9,902.2 L533.9,903.4 L536.9,904.6 L539.9,905.7 L542.9,906.9 L545.9,908.0 L548.9,909.2 L551.9,910.3 L554.9,911.4 L557.9,912.6 L560.9,913.7 L563.9,914.8 L566.9,915.9 L569.9,917.0 L572.9,918.0 L575.9,919.1 L578.9,920.2 L581.9,921.3 L584.9,922.3 L588.0,923.4 L591.0,924.4 L594.0,925.5 L597.0,926.6 L600.0,927.6 L603.0,928.7 L606.0,929.7 L609.0,930.8 L612.0,931.9 L615.0,932.9 L618.0,934.0 L621.0,935.1 L624.0,936.2 L627.0,937.3 L630.0,938.3 L633.0,939.4 L636.0,940.5 L639.0,941.6 L642.0,942.7 L645.0,943.8 L648.0,944.9 L651.0,946.0 L654.0,947.1 L657.1,948.2 L660.1,949.3 L663.1,950.4 L666.1,951.6 L669.1,952.7 L672.1,953.8 L675.1,954.9 L678.1,956.1 L681.1,957.2 L684.1,958.3 L687.1,959.4 L690.1,960.6 L693.1,961.7 L696.1,962.8 L699.1,963.9 L702.1,965.1 L705.1,966.2 L708.1,967.3 L711.1,968.5 L714.1,969.6 L717.1,970.7 L720.1,971.9 L723.2,973.0 L726.2,974.1 L729.2,975.2 L732.2,976.4 L735.2,977.5 L738.2,978.6 L741.2,979.8 L744.2,980.9 L747.2,982.0 L750.2,983.1 L753.2,984.3 L756.2,985.4 L759.2,986.5 L762.2,987.6 L765.2,988.8 L768.2,989.9 L771.2,991.0 L774.2,992.1 L777.2,993.2 L780.2,994.3 L783.2,995.5 L786.2,996.6 L789.2,997.7 L792.3,998.8 L795.3,999.9 L798.3,1001.0 L801.3,1002.1 L804.3,1003.2 L807.3,1004.3 L810.3,1005.4 L813.3,1006.5 L816.3,1007.6 L819.3,1008.7 L822.3,1009.8 L825.3,1010.8 L828.3,1011.9 L831.3,1013.0 L834.3,1014.1 L837.3,1015.2 L840.3,1016.2 L843.3,1017.3 L846.3,1018.4 L849.3,1019.4 L852.3,1020.5 L855.3,1021.5 L858.4,1022.6 L861.4,1023.6 L864.4,1024.7 L867.4,1025.7 L870.4,1026.8 L873.4,1027.8 L876.4,1028.8 L879.4,1029.9 L882.4,1030.9 L885.4,1031.9 L888.4,1032.9 L891.4,1033.9" fill="none" stroke="#008080" stroke-width="4.0" stroke-linejoin="round"/><path d="M146.3,893.0 L149.3,893.0 L152.3,893.0 L155.3,893.0 L158.3,893.1 L161.4,893.1 L164.4,893.2 L167.4,893.3 L170.4,893.4 L173.4,893.5 L176.4,893.6 L179.4,893.8 L182.4,894.0 L185.4,894.2 L188.4,894.4 L191.5,894.6 L194.5,894.8 L197.5,895.1 L200.5,895.3 L203.5,895.6 L206.5,895.9 L209.5,896.2 L212.5,896.5 L215.5,896.9 L218.6,897.2 L221.6,897.6 L224.6,898.0 L227.6,898.4 L230.6,898.8 L233.6,899.2 L236.6,899.6 L239.6,900.1 L242.6,900.6 L245.6,901.0 L248.7,901.5 L251.7,902.0 L254.7,902.5 L257.7,903.1 L260.7,903.6 L263.7,904.2 L266.7,904.8 L269.7,905.3 L272.7,905.9 L275.8,906.5 L278.8,907.2 L281.8,907.8 L284.8,908.4 L287.8,909.1 L290.8,909.8 L293.8,910.4 L296.8,911.1 L299.8,911.8 L302.8,912.6 L305.9,913.3 L308.9,914.0 L311.9,914.8 L314.9,915.5 L317.9,916.3 L320.9,917.1 L323.9,917.9 L326.9,918.7 L329.9,919.5 L333.0,920.3 L336.0,921.2 L339.0,922.0 L342.0,922.9 L345.0,923.7 L348.0,924.6 L351.0,925.5 L354.0,926.4 L357.0,927.3 L360.0,928.2 L363.1,929.2 L366.1,930.1 L369.1,931.0 L372.1,932.0 L375.1,932.9 L378.1,933.9 L381.1,934.9 L384.1,935.9 L387.1,936.9 L390.2,937.9 L393.2,938.9 L396.2,939.9 L399.2,940.9 L402.2,942.0 L405.2,943.0 L408.2,944.1 L411.2,945.1 L414.2,946.2 L417.2,947.2 L420.3,948.3 L423.3,949.4 L426.3,950.5 L429.3,951.6 L432.3,952.7 L435.3,953.8 L438.3,954.9 L441.3,956.0 L444.3,957.2 L447.4,958.3 L450.4,959.4 L453.4,960.6 L456.4,961.7 L459.4,962.9 L462.4,964.0 L465.4,965.2 L468.4,966.4 L471.4,967.5 L474.4,968.7 L477.5,969.9 L480.5,971.1 L483.5,972.2 L486.5,973.4 L489.5,974.6 L492.5,975.8 L495.5,977.0 L498.5,978.2 L501.5,979.4 L504.6,980.6 L507.6,981.9 L510.6,983.1 L513.6,984.3 L516.6,985.5 L519.6,986.7 L522.6,988.0 L525.6,989.2 L528.6,990.4 L531.6,991.6 L534.7,992.9 L537.7,994.1 L540.7,995.3 L543.7,996.6 L546.7,997.8 L549.7,999.0 L552.7,1000.3 L555.7,1001.5 L558.7,1002.8 L561.8,1004.0 L564.8,1005.2 L567.8,1006.5 L570.8,1007.7 L573.8,1009.0 L576.8,1010.2 L579.8,1011.5 L582.8,1012.7 L585.8,1014.0 L588.8,1015.2 L591.9,1016.5 L594.9,1017.7 L597.9,1019.0 L600.9,1020.2 L603.9,1021.4 L606.9,1022.7 L609.9,1023.9 L612.9,1025.2 L615.9,1026.4 L619.0,1027.7 L622.0,1028.9 L625.0,1030.2 L628.0,1031.5 L631.0,1032.7 L634.0,1034.0 L637.0,1035.2 L640.0,1036.5 L643.0,1037.7 L646.0,1039.0 L649.1,1040.2 L652.1,1041.5 L655.1,1042.7 L658.1,1044.0 L661.1,1045.2 L664.1,1046.5 L667.1,1047.7 L670.1,1049.0 L673.1,1050.2 L676.2,1051.5 L679.2,1052.7 L682.2,1054.0 L685.2,1055.2 L688.2,1056.5 L691.2,1057.8 L694.2,1059.0 L697.2,1060.3 L700.2,1061.5 L703.2,1062.8 L706.3,1064.0 L709.3,1065.3 L712.3,1066.5 L715.3,1067.8 L718.3,1069.0 L721.3,1070.3 L724.3,1071.5 L727.3,1072.8 L730.3,1074.1 L733.4,1075.3 L736.4,1076.6 L739.4,1077.8 L742.4,1079.1 L745.4,1080.3 L748.4,1081.6 L751.4,1082.8 L754.4,1084.1 L757.4,1085.3 L760.4,1086.6 L763.5,1087.8 L766.5,1089.1 L769.5,1090.4 L772.5,1091.6 L775.5,1092.9 L778.5,1094.1 L781.5,1095.4 L784.5,1096.6 L787.5,1097.9 L790.6,1099.1 L793.6,1100.4 L796.6,1101.6 L799.6,1102.9 L802.6,1104.1 L805.6,1105.4 L808.6,1106.6 L811.6,1107.8 L814.6,1109.1 L817.6,1110.3 L820.7,1111.6 L823.7,1112.8 L826.7,1114.1 L829.7,1115.3 L832.7,1116.5 L835.7,1117.8 L838.7,1119.0 L841.7,1120.3 L844.7,1121.5 L847.8,1122.7 L850.8,1124.0 L853.8,1125.2 L856.8,1126.4 L859.8,1127.7 L862.8,1128.9 L865.8,1130.1 L868.8,1131.4 L871.8,1132.6 L874.8,1133.8 L877.9,1135.0 L880.9,1136.3 L883.9,1137.5 L886.9,1138.7 L889.9,1139.9" fill="none" stroke="#000000" stroke-width="4.0" stroke-dasharray="14 5.7" stroke-linejoin="round"/><path d="M146.3,876.8 L149.3,876.7 L152.3,876.7 L155.3,876.6 L158.3,876.6 L161.4,876.6 L164.4,876.6 L167.4,876.7 L170.4,876.7 L173.4,876.7 L176.4,876.8 L179.4,876.9 L182.4,876.9 L185.4,877.0 L188.4,877.2 L191.5,877.3 L194.5,877.4 L197.5,877.6 L200.5,877.7 L203.5,877.9 L206.5,878.1 L209.5,878.3 L212.5,878.5 L215.5,878.8 L218.6,879.0 L221.6,879.3 L224.6,879.6 L227.6,879.8 L230.6,880.1 L233.6,880.4 L236.6,880.8 L239.6,881.1 L242.6,881.5 L245.6,881.8 L248.7,882.2 L251.7,882.6 L254.7,883.0 L257.7,883.4 L260.7,883.9 L263.7,884.3 L266.7,884.8 L269.7,885.2 L272.7,885.7 L275.8,886.2 L278.8,886.8 L281.8,887.3 L284.8,887.8 L287.8,888.4 L290.8,888.9 L293.8,889.5 L296.8,890.1 L299.8,890.7 L302.8,891.4 L305.9,892.0 L308.9,892.6 L311.9,893.3 L314.9,894.0 L317.9,894.7 L320.9,895.4 L323.9,896.1 L326.9,896.8 L329.9,897.6 L333.0,898.3 L336.0,899.1 L339.0,899.9 L342.0,900.7 L345.0,901.5 L348.0,902.4 L351.0,903.2 L354.0,904.1 L357.0,904.9 L360.0,905.8 L363.1,906.7 L366.1,907.6 L369.1,908.5 L372.1,909.5 L375.1,910.4 L378.1,911.4 L381.1,912.3 L384.1,913.3 L387.1,914.3 L390.2,915.3 L393.2,916.3 L396.2,917.4 L399.2,918.4 L402.2,919.5 L405.2,920.5 L408.2,921.6 L411.2,922.7 L414.2,923.7 L417.2,924.8 L420.3,925.9 L423.3,927.1 L426.3,928.2 L429.3,929.3 L432.3,930.5 L435.3,931.6 L438.3,932.8 L441.3,933.9 L444.3,935.1 L447.4,936.3 L450.4,937.5 L453.4,938.7 L456.4,939.9 L459.4,941.1 L462.4,942.3 L465.4,943.5 L468.4,944.7 L471.4,946.0 L474.4,947.2 L477.5,948.4 L480.5,949.7 L483.5,950.9 L486.5,952.2 L489.5,953.5 L492.5,954.7 L495.5,956.0 L498.5,957.3 L501.5,958.5 L504.6,959.8 L507.6,961.1 L510.6,962.4 L513.6,963.7 L516.6,965.0 L519.6,966.3 L522.6,967.6 L525.6,968.9 L528.6,970.2 L531.6,971.5 L534.7,972.8 L537.7,974.1 L540.7,975.4 L543.7,976.7 L546.7,978.0 L549.7,979.3 L552.7,980.6 L555.7,981.9 L558.7,983.2 L561.8,984.5 L564.8,985.8 L567.8,987.2 L570.8,988.5 L573.8,989.8 L576.8,991.1 L579.8,992.4 L582.8,993.7 L585.8,995.0 L588.8,996.3 L591.9,997.6 L594.9,999.0 L597.9,1000.3 L600.9,1001.6 L603.9,1002.9 L606.9,1004.2 L609.9,1005.5 L612.9,1006.8 L615.9,1008.1 L619.0,1009.4 L622.0,1010.7 L625.0,1012.0 L628.0,1013.3 L631.0,1014.6 L634.0,1015.9 L637.0,1017.2 L640.0,1018.5 L643.0,1019.8 L646.0,1021.1 L649.1,1022.4 L652.1,1023.7 L655.1,1025.0 L658.1,1026.3 L661.1,1027.6 L664.1,1028.9 L667.1,1030.2 L670.1,1031.5 L673.1,1032.8 L676.2,1034.1 L679.2,1035.4 L682.2,1036.7 L685.2,1038.0 L688.2,1039.3 L691.2,1040.5 L694.2,1041.8 L697.2,1043.1 L700.2,1044.4 L703.2,1045.7 L706.3,1047.0 L709.3,1048.3 L712.3,1049.6 L715.3,1050.9 L718.3,1052.2 L721.3,1053.4 L724.3,1054.7 L727.3,1056.0 L730.3,1057.3 L733.4,1058.6 L736.4,1059.9 L739.4,1061.2 L742.4,1062.4 L745.4,1063.7 L748.4,1065.0 L751.4,1066.3 L754.4,1067.6 L757.4,1068.9 L760.4,1070.1 L763.5,1071.4 L766.5,1072.7 L769.5,1074.0 L772.5,1075.3 L775.5,1076.6 L778.5,1077.8 L781.5,1079.1 L784.5,1080.4 L787.5,1081.7 L790.6,1083.0 L793.6,1084.2 L796.6,1085.5 L799.6,1086.8 L802.6,1088.1 L805.6,1089.4 L808.6,1090.6 L811.6,1091.9 L814.6,1093.2 L817.6,1094.5 L820.7,1095.8 L823.7,1097.0 L826.7,1098.3 L829.7,1099.6 L832.7,1100.9 L835.7,1102.2 L838.7,1103.4 L841.7,1104.7 L844.7,1106.0 L847.8,1107.3 L850.8,1108.5 L853.8,1109.8 L856.8,1111.1 L859.8,1112.4 L862.8,1113.7 L865.8,1114.9 L868.8,1116.2 L871.8,1117.5 L874.8,1118.8 L877.9,1120.1 L880.9,1121.3 L883.9,1122.6 L886.9,1123.9 L889.9,1125.2" fill="none" stroke="#ff8000" stroke-width="4.0" stroke-dasharray="14 5.7" stroke-linejoin="round"/><path d="M146.3,807.8 L149.3,807.8 L152.3,807.9 L155.3,808.0 L158.3,808.1 L161.4,808.2 L164.4,808.3 L167.4,808.4 L170.4,808.5 L173.4,808.6 L176.4,808.8 L179.4,808.9 L182.4,809.1 L185.4,809.3 L188.4,809.5 L191.5,809.6 L194.5,809.8 L197.5,810.1 L200.5,810.3 L203.5,810.5 L206.5,810.8 L209.5,811.0 L212.5,811.3 L215.5,811.6 L218.6,811.8 L221.6,812.1 L224.6,812.4 L227.6,812.8 L230.6,813.1 L233.6,813.5 L236.6,813.8 L239.6,814.2 L242.6,814.6 L245.6,815.0 L248.7,815.4 L251.7,815.8 L254.7,816.2 L257.7,816.7 L260.7,817.1 L263.7,817.6 L266.7,818.1 L269.7,818.6 L272.7,819.1 L275.8,819.6 L278.8,820.2 L281.8,820.7 L284.8,821.3 L287.8,821.9 L290.8,822.5 L293.8,823.1 L296.8,823.7 L299.8,824.4 L302.8,825.0 L305.9,825.7 L308.9,826.4 L311.9,827.1 L314.9,827.8 L317.9,828.6 L320.9,829.3 L323.9,830.1 L326.9,830.9 L329.9,831.7 L333.0,832.5 L336.0,833.3 L339.0,834.2 L342.0,835.0 L345.0,835.9 L348.0,836.8 L351.0,837.7 L354.0,838.6 L357.0,839.6 L360.0,840.5 L363.1,841.5 L366.1,842.4 L369.1,843.4 L372.1,844.4 L375.1,845.5 L378.1,846.5 L381.1,847.5 L384.1,848.6 L387.1,849.6 L390.2,850.7 L393.2,851.8 L396.2,852.9 L399.2,854.0 L402.2,855.1 L405.2,856.2 L408.2,857.3 L411.2,858.5 L414.2,859.6 L417.2,860.8 L420.3,861.9 L423.3,863.1 L426.3,864.3 L429.3,865.4 L432.3,866.6 L435.3,867.8 L438.3,869.0 L441.3,870.2 L444.3,871.4 L447.4,872.7 L450.4,873.9 L453.4,875.1 L456.4,876.3 L459.4,877.6 L462.4,878.8 L465.4,880.1 L468.4,881.3 L471.4,882.5 L474.4,883.8 L477.5,885.0 L480.5,886.3 L483.5,887.6 L486.5,888.8 L489.5,890.1 L492.5,891.3 L495.5,892.6 L498.5,893.9 L501.5,895.1 L504.6,896.4 L507.6,897.6 L510.6,898.9 L513.6,900.1 L516.6,901.4 L519.6,902.6 L522.6,903.9 L525.6,905.1 L528.6,906.4 L531.6,907.6 L534.7,908.9 L537.7,910.1 L540.7,911.3 L543.7,912.6 L546.7,913.8 L549.7,915.0 L552.7,916.2 L555.7,917.4 L558.7,918.6 L561.8,919.8 L564.8,921.0 L567.8,922.2 L570.8,923.4 L573.8,924.6 L576.8,925.8 L579.8,927.0 L582.8,928.2 L585.8,929.4 L588.8,930.6 L591.9,931.8 L594.9,933.0 L597.9,934.2 L600.9,935.4 L603.9,936.6 L606.9,937.8 L609.9,939.0 L612.9,940.2 L615.9,941.4 L619.0,942.6 L622.0,943.8 L625.0,945.0 L628.0,946.2 L631.0,947.4 L634.0,948.6 L637.0,949.8 L640.0,951.1 L643.0,952.3 L646.0,953.5 L649.1,954.7 L652.1,955.9 L655.1,957.1 L658.1,958.3 L661.1,959.6 L664.1,960.8 L667.1,962.0 L670.1,963.2 L673.1,964.5 L676.2,965.7 L679.2,966.9 L682.2,968.2 L685.2,969.4 L688.2,970.6 L691.2,971.9 L694.2,973.1 L697.2,974.3 L700.2,975.6 L703.2,976.8 L706.3,978.0 L709.3,979.3 L712.3,980.5 L715.3,981.8 L718.3,983.0 L721.3,984.3 L724.3,985.5 L727.3,986.8 L730.3,988.0 L733.4,989.3 L736.4,990.5 L739.4,991.8 L742.4,993.0 L745.4,994.3 L748.4,995.6 L751.4,996.8 L754.4,998.1 L757.4,999.4 L760.4,1000.6 L763.5,1001.9 L766.5,1003.2 L769.5,1004.4 L772.5,1005.7 L775.5,1007.0 L778.5,1008.2 L781.5,1009.5 L784.5,1010.8 L787.5,1012.1 L790.6,1013.3 L793.6,1014.6 L796.6,1015.9 L799.6,1017.1 L802.6,1018.4 L805.6,1019.7 L808.6,1020.9 L811.6,1022.2 L814.6,1023.5 L817.6,1024.7 L820.7,1026.0 L823.7,1027.3 L826.7,1028.5 L829.7,1029.8 L832.7,1031.0 L835.7,1032.3 L838.7,1033.6 L841.7,1034.8 L844.7,1036.1 L847.8,1037.3 L850.8,1038.6 L853.8,1039.8 L856.8,1041.0 L859.8,1042.3 L862.8,1043.5 L865.8,1044.8 L868.8,1046.0 L871.8,1047.2 L874.8,1048.4 L877.9,1049.7 L880.9,1050.9 L883.9,1052.1 L886.9,1053.3 L889.9,1054.5" fill="none" stroke="#008080" stroke-width="4.0" stroke-dasharray="14 5.7" stroke-linejoin="round"/></g>
<rect x="148.5" y="688.5" width="741.40" height="458.00" fill="none" stroke="#6b6b6b" stroke-width="1"/>
<line x1="148.30" y1="1146.3" x2="148.30" y2="1142.1" stroke="#6b6b6b" stroke-width="1"/><line x1="148.30" y1="688.6" x2="148.30" y2="692.8000000000001" stroke="#6b6b6b" stroke-width="1"/><line x1="199.10" y1="1146.3" x2="199.10" y2="1142.1" stroke="#6b6b6b" stroke-width="1"/><line x1="199.10" y1="688.6" x2="199.10" y2="692.8000000000001" stroke="#6b6b6b" stroke-width="1"/><line x1="238.50" y1="1146.3" x2="238.50" y2="1138.8" stroke="#6b6b6b" stroke-width="1"/><line x1="238.50" y1="688.6" x2="238.50" y2="696.1" stroke="#6b6b6b" stroke-width="1"/><line x1="270.70" y1="1146.3" x2="270.70" y2="1142.1" stroke="#6b6b6b" stroke-width="1"/><line x1="270.70" y1="688.6" x2="270.70" y2="692.8000000000001" stroke="#6b6b6b" stroke-width="1"/><line x1="297.92" y1="1146.3" x2="297.92" y2="1142.1" stroke="#6b6b6b" stroke-width="1"/><line x1="297.92" y1="688.6" x2="297.92" y2="692.8000000000001" stroke="#6b6b6b" stroke-width="1"/><line x1="321.50" y1="1146.3" x2="321.50" y2="1142.1" stroke="#6b6b6b" stroke-width="1"/><line x1="321.50" y1="688.6" x2="321.50" y2="692.8000000000001" stroke="#6b6b6b" stroke-width="1"/><line x1="342.30" y1="1146.3" x2="342.30" y2="1142.1" stroke="#6b6b6b" stroke-width="1"/><line x1="342.30" y1="688.6" x2="342.30" y2="692.8000000000001" stroke="#6b6b6b" stroke-width="1"/><line x1="360.90" y1="1146.3" x2="360.90" y2="1138.8" stroke="#6b6b6b" stroke-width="1"/><line x1="360.90" y1="688.6" x2="360.90" y2="696.1" stroke="#6b6b6b" stroke-width="1"/><line x1="483.30" y1="1146.3" x2="483.30" y2="1142.1" stroke="#6b6b6b" stroke-width="1"/><line x1="483.30" y1="688.6" x2="483.30" y2="692.8000000000001" stroke="#6b6b6b" stroke-width="1"/><line x1="554.90" y1="1146.3" x2="554.90" y2="1142.1" stroke="#6b6b6b" stroke-width="1"/><line x1="554.90" y1="688.6" x2="554.90" y2="692.8000000000001" stroke="#6b6b6b" stroke-width="1"/><line x1="605.70" y1="1146.3" x2="605.70" y2="1142.1" stroke="#6b6b6b" stroke-width="1"/><line x1="605.70" y1="688.6" x2="605.70" y2="692.8000000000001" stroke="#6b6b6b" stroke-width="1"/><line x1="645.10" y1="1146.3" x2="645.10" y2="1138.8" stroke="#6b6b6b" stroke-width="1"/><line x1="645.10" y1="688.6" x2="645.10" y2="696.1" stroke="#6b6b6b" stroke-width="1"/><line x1="677.30" y1="1146.3" x2="677.30" y2="1142.1" stroke="#6b6b6b" stroke-width="1"/><line x1="677.30" y1="688.6" x2="677.30" y2="692.8000000000001" stroke="#6b6b6b" stroke-width="1"/><line x1="704.52" y1="1146.3" x2="704.52" y2="1142.1" stroke="#6b6b6b" stroke-width="1"/><line x1="704.52" y1="688.6" x2="704.52" y2="692.8000000000001" stroke="#6b6b6b" stroke-width="1"/><line x1="728.10" y1="1146.3" x2="728.10" y2="1142.1" stroke="#6b6b6b" stroke-width="1"/><line x1="728.10" y1="688.6" x2="728.10" y2="692.8000000000001" stroke="#6b6b6b" stroke-width="1"/><line x1="748.90" y1="1146.3" x2="748.90" y2="1142.1" stroke="#6b6b6b" stroke-width="1"/><line x1="748.90" y1="688.6" x2="748.90" y2="692.8000000000001" stroke="#6b6b6b" stroke-width="1"/><line x1="767.50" y1="1146.3" x2="767.50" y2="1138.8" stroke="#6b6b6b" stroke-width="1"/><line x1="767.50" y1="688.6" x2="767.50" y2="696.1" stroke="#6b6b6b" stroke-width="1"/><line x1="889.90" y1="1146.3" x2="889.90" y2="1142.1" stroke="#6b6b6b" stroke-width="1"/><line x1="889.90" y1="688.6" x2="889.90" y2="692.8000000000001" stroke="#6b6b6b" stroke-width="1"/><line x1="148.3" y1="1146.30" x2="155.8" y2="1146.30" stroke="#6b6b6b" stroke-width="1"/><line x1="889.9" y1="1146.30" x2="882.4" y2="1146.30" stroke="#6b6b6b" stroke-width="1"/><line x1="148.3" y1="1106.67" x2="152.5" y2="1106.67" stroke="#6b6b6b" stroke-width="1"/><line x1="889.9" y1="1106.67" x2="885.6999999999999" y2="1106.67" stroke="#6b6b6b" stroke-width="1"/><line x1="148.3" y1="1083.50" x2="152.5" y2="1083.50" stroke="#6b6b6b" stroke-width="1"/><line x1="889.9" y1="1083.50" x2="885.6999999999999" y2="1083.50" stroke="#6b6b6b" stroke-width="1"/><line x1="148.3" y1="1067.05" x2="152.5" y2="1067.05" stroke="#6b6b6b" stroke-width="1"/><line x1="889.9" y1="1067.05" x2="885.6999999999999" y2="1067.05" stroke="#6b6b6b" stroke-width="1"/><line x1="148.3" y1="1054.29" x2="155.8" y2="1054.29" stroke="#6b6b6b" stroke-width="1"/><line x1="889.9" y1="1054.29" x2="882.4" y2="1054.29" stroke="#6b6b6b" stroke-width="1"/><line x1="148.3" y1="1043.87" x2="152.5" y2="1043.87" stroke="#6b6b6b" stroke-width="1"/><line x1="889.9" y1="1043.87" x2="885.6999999999999" y2="1043.87" stroke="#6b6b6b" stroke-width="1"/><line x1="148.3" y1="1035.06" x2="152.5" y2="1035.06" stroke="#6b6b6b" stroke-width="1"/><line x1="889.9" y1="1035.06" x2="885.6999999999999" y2="1035.06" stroke="#6b6b6b" stroke-width="1"/><line x1="148.3" y1="1027.42" x2="152.5" y2="1027.42" stroke="#6b6b6b" stroke-width="1"/><line x1="889.9" y1="1027.42" x2="885.6999999999999" y2="1027.42" stroke="#6b6b6b" stroke-width="1"/><line x1="148.3" y1="1020.69" x2="152.5" y2="1020.69" stroke="#6b6b6b" stroke-width="1"/><line x1="889.9" y1="1020.69" x2="885.6999999999999" y2="1020.69" stroke="#6b6b6b" stroke-width="1"/><line x1="148.3" y1="1014.67" x2="155.8" y2="1014.67" stroke="#6b6b6b" stroke-width="1"/><line x1="889.9" y1="1014.67" x2="882.4" y2="1014.67" stroke="#6b6b6b" stroke-width="1"/><line x1="148.3" y1="975.04" x2="152.5" y2="975.04" stroke="#6b6b6b" stroke-width="1"/><line x1="889.9" y1="975.04" x2="885.6999999999999" y2="975.04" stroke="#6b6b6b" stroke-width="1"/><line x1="148.3" y1="951.86" x2="152.5" y2="951.86" stroke="#6b6b6b" stroke-width="1"/><line x1="889.9" y1="951.86" x2="885.6999999999999" y2="951.86" stroke="#6b6b6b" stroke-width="1"/><line x1="148.3" y1="935.42" x2="152.5" y2="935.42" stroke="#6b6b6b" stroke-width="1"/><line x1="889.9" y1="935.42" x2="885.6999999999999" y2="935.42" stroke="#6b6b6b" stroke-width="1"/><line x1="148.3" y1="922.66" x2="155.8" y2="922.66" stroke="#6b6b6b" stroke-width="1"/><line x1="889.9" y1="922.66" x2="882.4" y2="922.66" stroke="#6b6b6b" stroke-width="1"/><line x1="148.3" y1="912.24" x2="152.5" y2="912.24" stroke="#6b6b6b" stroke-width="1"/><line x1="889.9" y1="912.24" x2="885.6999999999999" y2="912.24" stroke="#6b6b6b" stroke-width="1"/><line x1="148.3" y1="903.43" x2="152.5" y2="903.43" stroke="#6b6b6b" stroke-width="1"/><line x1="889.9" y1="903.43" x2="885.6999999999999" y2="903.43" stroke="#6b6b6b" stroke-width="1"/><line x1="148.3" y1="895.79" x2="152.5" y2="895.79" stroke="#6b6b6b" stroke-width="1"/><line x1="889.9" y1="895.79" x2="885.6999999999999" y2="895.79" stroke="#6b6b6b" stroke-width="1"/><line x1="148.3" y1="889.06" x2="152.5" y2="889.06" stroke="#6b6b6b" stroke-width="1"/><line x1="889.9" y1="889.06" x2="885.6999999999999" y2="889.06" stroke="#6b6b6b" stroke-width="1"/><line x1="148.3" y1="883.04" x2="155.8" y2="883.04" stroke="#6b6b6b" stroke-width="1"/><line x1="889.9" y1="883.04" x2="882.4" y2="883.04" stroke="#6b6b6b" stroke-width="1"/><line x1="148.3" y1="843.41" x2="152.5" y2="843.41" stroke="#6b6b6b" stroke-width="1"/><line x1="889.9" y1="843.41" x2="885.6999999999999" y2="843.41" stroke="#6b6b6b" stroke-width="1"/><line x1="148.3" y1="820.23" x2="152.5" y2="820.23" stroke="#6b6b6b" stroke-width="1"/><line x1="889.9" y1="820.23" x2="885.6999999999999" y2="820.23" stroke="#6b6b6b" stroke-width="1"/><line x1="148.3" y1="803.79" x2="152.5" y2="803.79" stroke="#6b6b6b" stroke-width="1"/><line x1="889.9" y1="803.79" x2="885.6999999999999" y2="803.79" stroke="#6b6b6b" stroke-width="1"/><line x1="148.3" y1="791.03" x2="155.8" y2="791.03" stroke="#6b6b6b" stroke-width="1"/><line x1="889.9" y1="791.03" x2="882.4" y2="791.03" stroke="#6b6b6b" stroke-width="1"/><line x1="148.3" y1="780.61" x2="152.5" y2="780.61" stroke="#6b6b6b" stroke-width="1"/><line x1="889.9" y1="780.61" x2="885.6999999999999" y2="780.61" stroke="#6b6b6b" stroke-width="1"/><line x1="148.3" y1="771.79" x2="152.5" y2="771.79" stroke="#6b6b6b" stroke-width="1"/><line x1="889.9" y1="771.79" x2="885.6999999999999" y2="771.79" stroke="#6b6b6b" stroke-width="1"/><line x1="148.3" y1="764.16" x2="152.5" y2="764.16" stroke="#6b6b6b" stroke-width="1"/><line x1="889.9" y1="764.16" x2="885.6999999999999" y2="764.16" stroke="#6b6b6b" stroke-width="1"/><line x1="148.3" y1="757.43" x2="152.5" y2="757.43" stroke="#6b6b6b" stroke-width="1"/><line x1="889.9" y1="757.43" x2="885.6999999999999" y2="757.43" stroke="#6b6b6b" stroke-width="1"/><line x1="148.3" y1="751.40" x2="155.8" y2="751.40" stroke="#6b6b6b" stroke-width="1"/><line x1="889.9" y1="751.40" x2="882.4" y2="751.40" stroke="#6b6b6b" stroke-width="1"/><line x1="148.3" y1="711.78" x2="152.5" y2="711.78" stroke="#6b6b6b" stroke-width="1"/><line x1="889.9" y1="711.78" x2="885.6999999999999" y2="711.78" stroke="#6b6b6b" stroke-width="1"/><line x1="148.3" y1="688.60" x2="152.5" y2="688.60" stroke="#6b6b6b" stroke-width="1"/><line x1="889.9" y1="688.60" x2="885.6999999999999" y2="688.60" stroke="#6b6b6b" stroke-width="1"/>
<g font-family='"Liberation Sans", sans-serif' font-size="22" fill="#000"><text x="237.1" y="1172.3" text-anchor="middle">5</text><text x="359.5" y="1172.3" text-anchor="middle">10</text><text x="643.7" y="1172.3" text-anchor="middle">50</text><text x="766.1" y="1172.3" text-anchor="middle">100</text><text x="74.3" y="760.4" text-anchor="end">1</text><text x="80.8" y="759.2" font-size="20">×</text><text x="96.4" y="760.4">10</text><text x="137.8" y="751.1" font-size="16" text-anchor="end">15</text><text x="74.3" y="800.0" text-anchor="end">5</text><text x="80.8" y="798.8" font-size="20">×</text><text x="96.4" y="800.0">10</text><text x="137.8" y="790.7" font-size="16" text-anchor="end">14</text><text x="74.3" y="892.0" text-anchor="end">1</text><text x="80.8" y="890.8" font-size="20">×</text><text x="96.4" y="892.0">10</text><text x="137.8" y="882.7" font-size="16" text-anchor="end">14</text><text x="74.3" y="931.7" text-anchor="end">5</text><text x="80.8" y="930.4" font-size="20">×</text><text x="96.4" y="931.7">10</text><text x="137.8" y="922.4" font-size="16" text-anchor="end">13</text><text x="74.3" y="1023.7" text-anchor="end">1</text><text x="80.8" y="1022.4" font-size="20">×</text><text x="96.4" y="1023.7">10</text><text x="137.8" y="1014.4" font-size="16" text-anchor="end">13</text><text x="74.3" y="1063.3" text-anchor="end">5</text><text x="80.8" y="1062.1" font-size="20">×</text><text x="96.4" y="1063.3">10</text><text x="137.8" y="1054.0" font-size="16" text-anchor="end">12</text><text x="74.3" y="1155.3" text-anchor="end">1</text><text x="80.8" y="1154.1" font-size="20">×</text><text x="96.4" y="1155.3">10</text><text x="137.8" y="1146.0" font-size="16" text-anchor="end">12</text></g>
<text x="493.2" y="1214.2" font-family='"Liberation Sans", sans-serif' font-size="22">R/<tspan font-style="italic">R</tspan><tspan font-style="italic" font-size="16" dy="4.2">g</tspan></text>
<text transform="translate(42.7,941.1) rotate(-90)" font-family='"Liberation Sans", sans-serif' font-size="22.5">B[G]</text>
<g font-family='"Liberation Sans", sans-serif' font-size="28" fill="#000" class="tt"><text x="462.23" y="665.3" font-style="italic">M</text><rect x="472.40" y="638.60" width="3" height="3" fill="#000"/><text x="484.73" y="666.8">=</text><text transform="translate(500.52,665.3) scale(0.787,1)" x="0" y="0">1</text><text x="515.23" y="665.3" font-style="italic">M</text><circle cx="544.30" cy="671.70" r="6.0" fill="none" stroke="#000" stroke-width="1.3"/><circle cx="544.30" cy="671.70" r="1.6" fill="#000"/><text x="553.00" y="665.3">/s</text></g>
<line x1="712.3" y1="753.5" x2="761.5" y2="753.5" stroke="#000" stroke-width="4.3"/>
<line x1="711.2" y1="807" x2="747.7" y2="807" stroke="#000" stroke-width="2" stroke-dasharray="11 2"/>
<text x="772.1" y="760.6" font-family='"Liberation Sans", sans-serif' font-size="22">VSGM</text>
<text x="767.6" y="814.5" font-family='"Liberation Sans", sans-serif' font-size="22">M</text>
<defs><clipPath id="clip2"><rect x="121.9" y="1315.2" width="775.4" height="481.39999999999986"/></clipPath></defs>
<g clip-path="url(#clip2)"><path d="M122.4,1445.9 L125.4,1445.9 L128.4,1446.0 L131.4,1446.1 L134.4,1446.2 L137.5,1446.3 L140.5,1446.4 L143.5,1446.5 L146.5,1446.6 L149.5,1446.8 L152.5,1446.9 L155.5,1447.1 L158.5,1447.3 L161.5,1447.5 L164.6,1447.7 L167.6,1447.9 L170.6,1448.1 L173.6,1448.4 L176.6,1448.6 L179.6,1448.9 L182.6,1449.2 L185.6,1449.5 L188.6,1449.8 L191.7,1450.1 L194.7,1450.5 L197.7,1450.9 L200.7,1451.3 L203.7,1451.7 L206.7,1452.1 L209.7,1452.6 L212.7,1453.0 L215.7,1453.5 L218.8,1454.0 L221.8,1454.6 L224.8,1455.1 L227.8,1455.7 L230.8,1456.3 L233.8,1456.9 L236.8,1457.6 L239.8,1458.2 L242.9,1458.9 L245.9,1459.7 L248.9,1460.4 L251.9,1461.2 L254.9,1461.9 L257.9,1462.7 L260.9,1463.6 L263.9,1464.4 L266.9,1465.3 L270.0,1466.1 L273.0,1467.0 L276.0,1467.9 L279.0,1468.9 L282.0,1469.8 L285.0,1470.7 L288.0,1471.7 L291.0,1472.7 L294.0,1473.6 L297.1,1474.6 L300.1,1475.6 L303.1,1476.6 L306.1,1477.6 L309.1,1478.6 L312.1,1479.6 L315.1,1480.6 L318.1,1481.7 L321.1,1482.7 L324.2,1483.7 L327.2,1484.7 L330.2,1485.7 L333.2,1486.7 L336.2,1487.7 L339.2,1488.8 L342.2,1489.8 L345.2,1490.7 L348.2,1491.7 L351.3,1492.7 L354.3,1493.7 L357.3,1494.7 L360.3,1495.6 L363.3,1496.6 L366.3,1497.5 L369.3,1498.5 L372.3,1499.4 L375.3,1500.3 L378.4,1501.3 L381.4,1502.2 L384.4,1503.1 L387.4,1504.0 L390.4,1504.9 L393.4,1505.8 L396.4,1506.7 L399.4,1507.6 L402.4,1508.4 L405.5,1509.3 L408.5,1510.2 L411.5,1511.1 L414.5,1511.9 L417.5,1512.8 L420.5,1513.6 L423.5,1514.5 L426.5,1515.3 L429.6,1516.1 L432.6,1517.0 L435.6,1517.8 L438.6,1518.6 L441.6,1519.4 L444.6,1520.2 L447.6,1521.1 L450.6,1521.9 L453.6,1522.7 L456.7,1523.5 L459.7,1524.3 L462.7,1525.1 L465.7,1525.9 L468.7,1526.6 L471.7,1527.4 L474.7,1528.2 L477.7,1529.0 L480.7,1529.8 L483.8,1530.6 L486.8,1531.4 L489.8,1532.1 L492.8,1532.9 L495.8,1533.7 L498.8,1534.5 L501.8,1535.2 L504.8,1536.0 L507.8,1536.8 L510.9,1537.6 L513.9,1538.4 L516.9,1539.1 L519.9,1539.9 L522.9,1540.7 L525.9,1541.5 L528.9,1542.3 L531.9,1543.1 L534.9,1543.8 L538.0,1544.6 L541.0,1545.4 L544.0,1546.2 L547.0,1547.0 L550.0,1547.8 L553.0,1548.6 L556.0,1549.4 L559.0,1550.2 L562.0,1551.0 L565.1,1551.8 L568.1,1552.6 L571.1,1553.4 L574.1,1554.2 L577.1,1555.0 L580.1,1555.8 L583.1,1556.6 L586.1,1557.4 L589.1,1558.3 L592.2,1559.1 L595.2,1559.9 L598.2,1560.7 L601.2,1561.6 L604.2,1562.4 L607.2,1563.2 L610.2,1564.1 L613.2,1564.9 L616.3,1565.7 L619.3,1566.6 L622.3,1567.4 L625.3,1568.3 L628.3,1569.1 L631.3,1570.0 L634.3,1570.8 L637.3,1571.7 L640.3,1572.5 L643.4,1573.4 L646.4,1574.3 L649.4,1575.1 L652.4,1576.0 L655.4,1576.9 L658.4,1577.8 L661.4,1578.7 L664.4,1579.5 L667.4,1580.4 L670.5,1581.3 L673.5,1582.2 L676.5,1583.1 L679.5,1584.0 L682.5,1584.9 L685.5,1585.9 L688.5,1586.8 L691.5,1587.7 L694.5,1588.6 L697.6,1589.5 L700.6,1590.5 L703.6,1591.4 L706.6,1592.3 L709.6,1593.3 L712.6,1594.2 L715.6,1595.2 L718.6,1596.1 L721.6,1597.1 L724.7,1598.1 L727.7,1599.0 L730.7,1600.0 L733.7,1601.0 L736.7,1602.0 L739.7,1602.9 L742.7,1603.9 L745.7,1604.9 L748.7,1605.9 L751.8,1606.9 L754.8,1607.9 L757.8,1608.9 L760.8,1609.9 L763.8,1610.9 L766.8,1612.0 L769.8,1613.0 L772.8,1614.0 L775.8,1615.0 L778.9,1616.0 L781.9,1617.1 L784.9,1618.1 L787.9,1619.1 L790.9,1620.2 L793.9,1621.2 L796.9,1622.2 L799.9,1623.3 L803.0,1624.3 L806.0,1625.3 L809.0,1626.4 L812.0,1627.4 L815.0,1628.5 L818.0,1629.5 L821.0,1630.6 L824.0,1631.6 L827.0,1632.7 L830.1,1633.7 L833.1,1634.8 L836.1,1635.8 L839.1,1636.9 L842.1,1637.9 L845.1,1639.0 L848.1,1640.0 L851.1,1641.1 L854.1,1642.1 L857.2,1643.2 L860.2,1644.2 L863.2,1645.3 L866.2,1646.3 L869.2,1647.4 L872.2,1648.4 L875.2,1649.5 L878.2,1650.5 L881.2,1651.6 L884.3,1652.6 L887.3,1653.7 L890.3,1654.7 L893.3,1655.7 L896.3,1656.8" fill="none" stroke="#000000" stroke-width="4.0" stroke-linejoin="round"/><path d="M122.4,1430.7 L125.4,1430.7 L128.4,1430.8 L131.4,1430.8 L134.4,1430.9 L137.5,1431.0 L140.5,1431.0 L143.5,1431.1 L146.5,1431.2 L149.5,1431.4 L152.5,1431.5 L155.5,1431.6 L158.5,1431.8 L161.5,1431.9 L164.6,1432.1 L167.6,1432.3 L170.6,1432.5 L173.6,1432.7 L176.6,1432.9 L179.6,1433.1 L182.6,1433.4 L185.6,1433.6 L188.6,1433.9 L191.7,1434.2 L194.7,1434.5 L197.7,1434.8 L200.7,1435.1 L203.7,1435.4 L206.7,1435.7 L209.7,1436.1 L212.7,1436.4 L215.7,1436.8 L218.8,1437.2 L221.8,1437.6 L224.8,1438.0 L227.8,1438.4 L230.8,1438.8 L233.8,1439.2 L236.8,1439.7 L239.8,1440.2 L242.9,1440.6 L245.9,1441.1 L248.9,1441.6 L251.9,1442.1 L254.9,1442.7 L257.9,1443.2 L260.9,1443.8 L263.9,1444.3 L266.9,1444.9 L270.0,1445.5 L273.0,1446.1 L276.0,1446.7 L279.0,1447.3 L282.0,1448.0 L285.0,1448.6 L288.0,1449.3 L291.0,1449.9 L294.0,1450.6 L297.1,1451.3 L300.1,1452.1 L303.1,1452.8 L306.1,1453.5 L309.1,1454.3 L312.1,1455.0 L315.1,1455.8 L318.1,1456.6 L321.1,1457.4 L324.2,1458.2 L327.2,1459.1 L330.2,1459.9 L333.2,1460.8 L336.2,1461.6 L339.2,1462.5 L342.2,1463.4 L345.2,1464.3 L348.2,1465.2 L351.3,1466.1 L354.3,1467.0 L357.3,1467.9 L360.3,1468.8 L363.3,1469.7 L366.3,1470.7 L369.3,1471.6 L372.3,1472.6 L375.3,1473.5 L378.4,1474.5 L381.4,1475.4 L384.4,1476.4 L387.4,1477.4 L390.4,1478.3 L393.4,1479.3 L396.4,1480.3 L399.4,1481.2 L402.4,1482.2 L405.5,1483.2 L408.5,1484.2 L411.5,1485.1 L414.5,1486.1 L417.5,1487.1 L420.5,1488.0 L423.5,1489.0 L426.5,1490.0 L429.6,1490.9 L432.6,1491.9 L435.6,1492.8 L438.6,1493.8 L441.6,1494.8 L444.6,1495.7 L447.6,1496.7 L450.6,1497.6 L453.6,1498.5 L456.7,1499.5 L459.7,1500.4 L462.7,1501.4 L465.7,1502.3 L468.7,1503.2 L471.7,1504.2 L474.7,1505.1 L477.7,1506.0 L480.7,1506.9 L483.8,1507.8 L486.8,1508.7 L489.8,1509.6 L492.8,1510.5 L495.8,1511.4 L498.8,1512.3 L501.8,1513.2 L504.8,1514.1 L507.8,1514.9 L510.9,1515.8 L513.9,1516.7 L516.9,1517.5 L519.9,1518.4 L522.9,1519.2 L525.9,1520.1 L528.9,1520.9 L531.9,1521.8 L534.9,1522.6 L538.0,1523.5 L541.0,1524.3 L544.0,1525.1 L547.0,1526.0 L550.0,1526.8 L553.0,1527.6 L556.0,1528.4 L559.0,1529.3 L562.0,1530.1 L565.1,1530.9 L568.1,1531.7 L571.1,1532.5 L574.1,1533.4 L577.1,1534.2 L580.1,1535.0 L583.1,1535.8 L586.1,1536.6 L589.1,1537.4 L592.2,1538.3 L595.2,1539.1 L598.2,1539.9 L601.2,1540.7 L604.2,1541.5 L607.2,1542.4 L610.2,1543.2 L613.2,1544.0 L616.3,1544.8 L619.3,1545.7 L622.3,1546.5 L625.3,1547.3 L628.3,1548.2 L631.3,1549.0 L634.3,1549.8 L637.3,1550.7 L640.3,1551.5 L643.4,1552.4 L646.4,1553.2 L649.4,1554.1 L652.4,1554.9 L655.4,1555.8 L658.4,1556.7 L661.4,1557.6 L664.4,1558.4 L667.4,1559.3 L670.5,1560.2 L673.5,1561.1 L676.5,1562.0 L679.5,1562.9 L682.5,1563.8 L685.5,1564.7 L688.5,1565.6 L691.5,1566.6 L694.5,1567.5 L697.6,1568.4 L700.6,1569.4 L703.6,1570.3 L706.6,1571.3 L709.6,1572.2 L712.6,1573.2 L715.6,1574.1 L718.6,1575.1 L721.6,1576.1 L724.7,1577.1 L727.7,1578.1 L730.7,1579.0 L733.7,1580.0 L736.7,1581.0 L739.7,1582.0 L742.7,1583.0 L745.7,1584.0 L748.7,1585.0 L751.8,1586.1 L754.8,1587.1 L757.8,1588.1 L760.8,1589.1 L763.8,1590.1 L766.8,1591.2 L769.8,1592.2 L772.8,1593.2 L775.8,1594.3 L778.9,1595.3 L781.9,1596.4 L784.9,1597.4 L787.9,1598.4 L790.9,1599.5 L793.9,1600.5 L796.9,1601.6 L799.9,1602.6 L803.0,1603.7 L806.0,1604.7 L809.0,1605.8 L812.0,1606.8 L815.0,1607.9 L818.0,1609.0 L821.0,1610.0 L824.0,1611.1 L827.0,1612.1 L830.1,1613.2 L833.1,1614.2 L836.1,1615.3 L839.1,1616.4 L842.1,1617.4 L845.1,1618.5 L848.1,1619.5 L851.1,1620.6 L854.1,1621.6 L857.2,1622.7 L860.2,1623.8 L863.2,1624.8 L866.2,1625.9 L869.2,1626.9 L872.2,1628.0 L875.2,1629.0 L878.2,1630.1 L881.2,1631.1 L884.3,1632.1 L887.3,1633.2 L890.3,1634.2 L893.3,1635.3 L896.3,1636.3" fill="none" stroke="#ff8000" stroke-width="4.0" stroke-linejoin="round"/><path d="M122.4,1358.5 L125.4,1358.5 L128.4,1358.6 L131.4,1358.6 L134.4,1358.7 L137.5,1358.8 L140.5,1358.9 L143.5,1359.0 L146.5,1359.1 L149.5,1359.3 L152.5,1359.4 L155.5,1359.6 L158.5,1359.8 L161.5,1360.0 L164.6,1360.2 L167.6,1360.4 L170.6,1360.7 L173.6,1360.9 L176.6,1361.2 L179.6,1361.5 L182.6,1361.8 L185.6,1362.1 L188.6,1362.5 L191.7,1362.8 L194.7,1363.2 L197.7,1363.6 L200.7,1364.0 L203.7,1364.4 L206.7,1364.8 L209.7,1365.3 L212.7,1365.7 L215.7,1366.2 L218.8,1366.7 L221.8,1367.2 L224.8,1367.8 L227.8,1368.3 L230.8,1368.9 L233.8,1369.4 L236.8,1370.0 L239.8,1370.6 L242.9,1371.3 L245.9,1371.9 L248.9,1372.6 L251.9,1373.2 L254.9,1373.9 L257.9,1374.6 L260.9,1375.4 L263.9,1376.1 L266.9,1376.8 L270.0,1377.6 L273.0,1378.4 L276.0,1379.1 L279.0,1379.9 L282.0,1380.7 L285.0,1381.5 L288.0,1382.4 L291.0,1383.2 L294.0,1384.1 L297.1,1384.9 L300.1,1385.8 L303.1,1386.7 L306.1,1387.5 L309.1,1388.4 L312.1,1389.3 L315.1,1390.2 L318.1,1391.1 L321.1,1392.1 L324.2,1393.0 L327.2,1393.9 L330.2,1394.9 L333.2,1395.8 L336.2,1396.7 L339.2,1397.7 L342.2,1398.6 L345.2,1399.6 L348.2,1400.6 L351.3,1401.5 L354.3,1402.5 L357.3,1403.4 L360.3,1404.4 L363.3,1405.4 L366.3,1406.4 L369.3,1407.3 L372.3,1408.3 L375.3,1409.3 L378.4,1410.2 L381.4,1411.2 L384.4,1412.2 L387.4,1413.1 L390.4,1414.1 L393.4,1415.0 L396.4,1416.0 L399.4,1416.9 L402.4,1417.9 L405.5,1418.8 L408.5,1419.8 L411.5,1420.7 L414.5,1421.6 L417.5,1422.6 L420.5,1423.5 L423.5,1424.4 L426.5,1425.3 L429.6,1426.2 L432.6,1427.1 L435.6,1428.0 L438.6,1428.9 L441.6,1429.8 L444.6,1430.7 L447.6,1431.6 L450.6,1432.5 L453.6,1433.3 L456.7,1434.2 L459.7,1435.1 L462.7,1435.9 L465.7,1436.8 L468.7,1437.7 L471.7,1438.5 L474.7,1439.4 L477.7,1440.2 L480.7,1441.0 L483.8,1441.9 L486.8,1442.7 L489.8,1443.5 L492.8,1444.4 L495.8,1445.2 L498.8,1446.0 L501.8,1446.8 L504.8,1447.6 L507.8,1448.5 L510.9,1449.3 L513.9,1450.1 L516.9,1450.9 L519.9,1451.7 L522.9,1452.5 L525.9,1453.3 L528.9,1454.1 L531.9,1454.8 L534.9,1455.6 L538.0,1456.4 L541.0,1457.2 L544.0,1458.0 L547.0,1458.8 L550.0,1459.6 L553.0,1460.3 L556.0,1461.1 L559.0,1461.9 L562.0,1462.7 L565.1,1463.5 L568.1,1464.3 L571.1,1465.0 L574.1,1465.8 L577.1,1466.6 L580.1,1467.4 L583.1,1468.2 L586.1,1468.9 L589.1,1469.7 L592.2,1470.5 L595.2,1471.3 L598.2,1472.1 L601.2,1472.9 L604.2,1473.7 L607.2,1474.5 L610.2,1475.3 L613.2,1476.1 L616.3,1476.9 L619.3,1477.7 L622.3,1478.5 L625.3,1479.3 L628.3,1480.1 L631.3,1480.9 L634.3,1481.8 L637.3,1482.6 L640.3,1483.4 L643.4,1484.2 L646.4,1485.1 L649.4,1485.9 L652.4,1486.8 L655.4,1487.6 L658.4,1488.5 L661.4,1489.3 L664.4,1490.2 L667.4,1491.0 L670.5,1491.9 L673.5,1492.8 L676.5,1493.7 L679.5,1494.6 L682.5,1495.5 L685.5,1496.4 L688.5,1497.3 L691.5,1498.2 L694.5,1499.1 L697.6,1500.0 L700.6,1501.0 L703.6,1501.9 L706.6,1502.9 L709.6,1503.8 L712.6,1504.8 L715.6,1505.7 L718.6,1506.7 L721.6,1507.7 L724.7,1508.6 L727.7,1509.6 L730.7,1510.6 L733.7,1511.6 L736.7,1512.6 L739.7,1513.6 L742.7,1514.5 L745.7,1515.6 L748.7,1516.6 L751.8,1517.6 L754.8,1518.6 L757.8,1519.6 L760.8,1520.6 L763.8,1521.6 L766.8,1522.7 L769.8,1523.7 L772.8,1524.7 L775.8,1525.7 L778.9,1526.8 L781.9,1527.8 L784.9,1528.9 L787.9,1529.9 L790.9,1530.9 L793.9,1532.0 L796.9,1533.0 L799.9,1534.1 L803.0,1535.1 L806.0,1536.2 L809.0,1537.2 L812.0,1538.3 L815.0,1539.3 L818.0,1540.4 L821.0,1541.4 L824.0,1542.5 L827.0,1543.5 L830.1,1544.6 L833.1,1545.6 L836.1,1546.7 L839.1,1547.7 L842.1,1548.8 L845.1,1549.9 L848.1,1550.9 L851.1,1552.0 L854.1,1553.0 L857.2,1554.1 L860.2,1555.1 L863.2,1556.1 L866.2,1557.2 L869.2,1558.2 L872.2,1559.3 L875.2,1560.3 L878.2,1561.4 L881.2,1562.4 L884.3,1563.4 L887.3,1564.5 L890.3,1565.5 L893.3,1566.5 L896.3,1567.5" fill="none" stroke="#008080" stroke-width="4.0" stroke-linejoin="round"/><path d="M122.4,1447.0 L125.4,1446.9 L128.4,1446.9 L131.4,1446.8 L134.4,1446.8 L137.4,1446.8 L140.4,1446.9 L143.4,1446.9 L146.4,1447.0 L149.4,1447.1 L152.5,1447.3 L155.5,1447.4 L158.5,1447.6 L161.5,1447.8 L164.5,1448.0 L167.5,1448.3 L170.5,1448.5 L173.5,1448.8 L176.5,1449.2 L179.5,1449.5 L182.5,1449.8 L185.5,1450.2 L188.5,1450.6 L191.5,1451.1 L194.5,1451.5 L197.5,1452.0 L200.5,1452.5 L203.5,1453.0 L206.6,1453.5 L209.6,1454.0 L212.6,1454.6 L215.6,1455.2 L218.6,1455.8 L221.6,1456.4 L224.6,1457.1 L227.6,1457.8 L230.6,1458.5 L233.6,1459.2 L236.6,1459.9 L239.6,1460.6 L242.6,1461.4 L245.6,1462.2 L248.6,1463.0 L251.6,1463.8 L254.6,1464.6 L257.6,1465.5 L260.7,1466.4 L263.7,1467.2 L266.7,1468.1 L269.7,1469.1 L272.7,1470.0 L275.7,1470.9 L278.7,1471.9 L281.7,1472.9 L284.7,1473.8 L287.7,1474.8 L290.7,1475.8 L293.7,1476.9 L296.7,1477.9 L299.7,1478.9 L302.7,1480.0 L305.7,1481.0 L308.7,1482.1 L311.7,1483.2 L314.7,1484.2 L317.8,1485.3 L320.8,1486.4 L323.8,1487.5 L326.8,1488.6 L329.8,1489.7 L332.8,1490.8 L335.8,1491.9 L338.8,1493.1 L341.8,1494.2 L344.8,1495.3 L347.8,1496.4 L350.8,1497.5 L353.8,1498.6 L356.8,1499.8 L359.8,1500.9 L362.8,1502.0 L365.8,1503.1 L368.8,1504.2 L371.9,1505.4 L374.9,1506.5 L377.9,1507.6 L380.9,1508.7 L383.9,1509.8 L386.9,1510.9 L389.9,1512.1 L392.9,1513.2 L395.9,1514.3 L398.9,1515.4 L401.9,1516.5 L404.9,1517.6 L407.9,1518.8 L410.9,1519.9 L413.9,1521.0 L416.9,1522.1 L419.9,1523.2 L422.9,1524.3 L426.0,1525.5 L429.0,1526.6 L432.0,1527.7 L435.0,1528.8 L438.0,1529.9 L441.0,1531.0 L444.0,1532.2 L447.0,1533.3 L450.0,1534.4 L453.0,1535.5 L456.0,1536.6 L459.0,1537.8 L462.0,1538.9 L465.0,1540.0 L468.0,1541.1 L471.0,1542.3 L474.0,1543.4 L477.0,1544.5 L480.0,1545.7 L483.1,1546.8 L486.1,1547.9 L489.1,1549.1 L492.1,1550.2 L495.1,1551.3 L498.1,1552.5 L501.1,1553.6 L504.1,1554.7 L507.1,1555.9 L510.1,1557.0 L513.1,1558.2 L516.1,1559.3 L519.1,1560.5 L522.1,1561.6 L525.1,1562.7 L528.1,1563.9 L531.1,1565.1 L534.1,1566.2 L537.2,1567.4 L540.2,1568.5 L543.2,1569.7 L546.2,1570.8 L549.2,1572.0 L552.2,1573.2 L555.2,1574.3 L558.2,1575.5 L561.2,1576.7 L564.2,1577.9 L567.2,1579.0 L570.2,1580.2 L573.2,1581.4 L576.2,1582.6 L579.2,1583.8 L582.2,1585.0 L585.2,1586.1 L588.2,1587.3 L591.2,1588.5 L594.3,1589.7 L597.3,1590.9 L600.3,1592.1 L603.3,1593.3 L606.3,1594.5 L609.3,1595.7 L612.3,1596.9 L615.3,1598.2 L618.3,1599.4 L621.3,1600.6 L624.3,1601.8 L627.3,1603.0 L630.3,1604.2 L633.3,1605.5 L636.3,1606.7 L639.3,1607.9 L642.3,1609.1 L645.3,1610.4 L648.4,1611.6 L651.4,1612.8 L654.4,1614.1 L657.4,1615.3 L660.4,1616.5 L663.4,1617.8 L666.4,1619.0 L669.4,1620.2 L672.4,1621.5 L675.4,1622.7 L678.4,1624.0 L681.4,1625.2 L684.4,1626.5 L687.4,1627.7 L690.4,1629.0 L693.4,1630.2 L696.4,1631.5 L699.4,1632.7 L702.5,1634.0 L705.5,1635.2 L708.5,1636.5 L711.5,1637.8 L714.5,1639.0 L717.5,1640.3 L720.5,1641.5 L723.5,1642.8 L726.5,1644.1 L729.5,1645.3 L732.5,1646.6 L735.5,1647.9 L738.5,1649.1 L741.5,1650.4 L744.5,1651.7 L747.5,1653.0 L750.5,1654.2 L753.5,1655.5 L756.5,1656.8 L759.6,1658.1 L762.6,1659.3 L765.6,1660.6 L768.6,1661.9 L771.6,1663.2 L774.6,1664.4 L777.6,1665.7 L780.6,1667.0 L783.6,1668.3 L786.6,1669.6 L789.6,1670.9 L792.6,1672.1 L795.6,1673.4 L798.6,1674.7 L801.6,1676.0 L804.6,1677.3 L807.6,1678.6 L810.6,1679.8 L813.7,1681.1 L816.7,1682.4 L819.7,1683.7 L822.7,1685.0 L825.7,1686.3 L828.7,1687.6 L831.7,1688.9 L834.7,1690.1 L837.7,1691.4 L840.7,1692.7 L843.7,1694.0 L846.7,1695.3 L849.7,1696.6 L852.7,1697.9 L855.7,1699.2 L858.7,1700.4 L861.7,1701.7 L864.7,1703.0 L867.8,1704.3 L870.8,1705.6 L873.8,1706.9 L876.8,1708.2 L879.8,1709.5 L882.8,1710.8 L885.8,1712.0 L888.8,1713.3 L891.8,1714.6 L894.8,1715.9" fill="none" stroke="#000000" stroke-width="4.0" stroke-dasharray="14 5.7" stroke-linejoin="round"/><path d="M122.4,1431.7 L125.4,1431.7 L128.4,1431.8 L131.4,1431.9 L134.4,1431.9 L137.4,1432.0 L140.4,1432.1 L143.4,1432.2 L146.4,1432.3 L149.4,1432.4 L152.5,1432.5 L155.5,1432.6 L158.5,1432.8 L161.5,1432.9 L164.5,1433.1 L167.5,1433.3 L170.5,1433.5 L173.5,1433.7 L176.5,1433.9 L179.5,1434.1 L182.5,1434.4 L185.5,1434.6 L188.5,1434.9 L191.5,1435.1 L194.5,1435.4 L197.5,1435.7 L200.5,1436.1 L203.5,1436.4 L206.6,1436.7 L209.6,1437.1 L212.6,1437.5 L215.6,1437.8 L218.6,1438.2 L221.6,1438.7 L224.6,1439.1 L227.6,1439.5 L230.6,1440.0 L233.6,1440.5 L236.6,1441.0 L239.6,1441.5 L242.6,1442.0 L245.6,1442.6 L248.6,1443.1 L251.6,1443.7 L254.6,1444.3 L257.6,1444.9 L260.7,1445.6 L263.7,1446.2 L266.7,1446.9 L269.7,1447.6 L272.7,1448.3 L275.7,1449.0 L278.7,1449.7 L281.7,1450.4 L284.7,1451.2 L287.7,1452.0 L290.7,1452.8 L293.7,1453.6 L296.7,1454.4 L299.7,1455.2 L302.7,1456.1 L305.7,1456.9 L308.7,1457.8 L311.7,1458.7 L314.7,1459.6 L317.8,1460.5 L320.8,1461.4 L323.8,1462.4 L326.8,1463.3 L329.8,1464.3 L332.8,1465.3 L335.8,1466.3 L338.8,1467.3 L341.8,1468.3 L344.8,1469.3 L347.8,1470.4 L350.8,1471.4 L353.8,1472.5 L356.8,1473.6 L359.8,1474.6 L362.8,1475.7 L365.8,1476.8 L368.8,1477.9 L371.9,1479.1 L374.9,1480.2 L377.9,1481.3 L380.9,1482.5 L383.9,1483.6 L386.9,1484.8 L389.9,1486.0 L392.9,1487.2 L395.9,1488.3 L398.9,1489.5 L401.9,1490.7 L404.9,1491.9 L407.9,1493.1 L410.9,1494.3 L413.9,1495.6 L416.9,1496.8 L419.9,1498.0 L422.9,1499.2 L426.0,1500.5 L429.0,1501.7 L432.0,1502.9 L435.0,1504.2 L438.0,1505.4 L441.0,1506.6 L444.0,1507.9 L447.0,1509.1 L450.0,1510.4 L453.0,1511.6 L456.0,1512.9 L459.0,1514.1 L462.0,1515.3 L465.0,1516.6 L468.0,1517.8 L471.0,1519.0 L474.0,1520.3 L477.0,1521.5 L480.0,1522.7 L483.1,1524.0 L486.1,1525.2 L489.1,1526.4 L492.1,1527.6 L495.1,1528.8 L498.1,1530.1 L501.1,1531.3 L504.1,1532.5 L507.1,1533.7 L510.1,1534.9 L513.1,1536.1 L516.1,1537.3 L519.1,1538.6 L522.1,1539.8 L525.1,1541.0 L528.1,1542.2 L531.1,1543.4 L534.1,1544.6 L537.2,1545.8 L540.2,1547.0 L543.2,1548.2 L546.2,1549.4 L549.2,1550.6 L552.2,1551.8 L555.2,1553.1 L558.2,1554.3 L561.2,1555.5 L564.2,1556.7 L567.2,1557.9 L570.2,1559.1 L573.2,1560.3 L576.2,1561.5 L579.2,1562.8 L582.2,1564.0 L585.2,1565.2 L588.2,1566.4 L591.2,1567.6 L594.3,1568.8 L597.3,1570.1 L600.3,1571.3 L603.3,1572.5 L606.3,1573.7 L609.3,1575.0 L612.3,1576.2 L615.3,1577.4 L618.3,1578.6 L621.3,1579.9 L624.3,1581.1 L627.3,1582.3 L630.3,1583.6 L633.3,1584.8 L636.3,1586.0 L639.3,1587.3 L642.3,1588.5 L645.3,1589.7 L648.4,1591.0 L651.4,1592.2 L654.4,1593.4 L657.4,1594.7 L660.4,1595.9 L663.4,1597.1 L666.4,1598.4 L669.4,1599.6 L672.4,1600.9 L675.4,1602.1 L678.4,1603.4 L681.4,1604.6 L684.4,1605.8 L687.4,1607.1 L690.4,1608.3 L693.4,1609.6 L696.4,1610.8 L699.4,1612.1 L702.5,1613.3 L705.5,1614.6 L708.5,1615.8 L711.5,1617.1 L714.5,1618.4 L717.5,1619.6 L720.5,1620.9 L723.5,1622.1 L726.5,1623.4 L729.5,1624.6 L732.5,1625.9 L735.5,1627.2 L738.5,1628.4 L741.5,1629.7 L744.5,1631.0 L747.5,1632.2 L750.5,1633.5 L753.5,1634.8 L756.5,1636.0 L759.6,1637.3 L762.6,1638.6 L765.6,1639.8 L768.6,1641.1 L771.6,1642.4 L774.6,1643.6 L777.6,1644.9 L780.6,1646.2 L783.6,1647.5 L786.6,1648.7 L789.6,1650.0 L792.6,1651.3 L795.6,1652.6 L798.6,1653.9 L801.6,1655.1 L804.6,1656.4 L807.6,1657.7 L810.6,1659.0 L813.7,1660.3 L816.7,1661.6 L819.7,1662.8 L822.7,1664.1 L825.7,1665.4 L828.7,1666.7 L831.7,1668.0 L834.7,1669.3 L837.7,1670.6 L840.7,1671.9 L843.7,1673.2 L846.7,1674.5 L849.7,1675.8 L852.7,1677.1 L855.7,1678.4 L858.7,1679.7 L861.7,1681.0 L864.7,1682.3 L867.8,1683.6 L870.8,1684.9 L873.8,1686.2 L876.8,1687.5 L879.8,1688.8 L882.8,1690.1 L885.8,1691.4 L888.8,1692.7 L891.8,1694.0 L894.8,1695.3" fill="none" stroke="#ff8000" stroke-width="4.0" stroke-dasharray="14 5.7" stroke-linejoin="round"/><path d="M122.4,1359.6 L125.4,1359.6 L128.4,1359.5 L131.4,1359.6 L134.4,1359.6 L137.4,1359.6 L140.4,1359.7 L143.4,1359.8 L146.4,1359.9 L149.4,1360.0 L152.5,1360.1 L155.5,1360.3 L158.5,1360.5 L161.5,1360.6 L164.5,1360.9 L167.5,1361.1 L170.5,1361.3 L173.5,1361.6 L176.5,1361.9 L179.5,1362.2 L182.5,1362.5 L185.5,1362.8 L188.5,1363.2 L191.5,1363.6 L194.5,1364.0 L197.5,1364.4 L200.5,1364.8 L203.5,1365.2 L206.6,1365.7 L209.6,1366.2 L212.6,1366.7 L215.6,1367.2 L218.6,1367.8 L221.6,1368.3 L224.6,1368.9 L227.6,1369.5 L230.6,1370.1 L233.6,1370.8 L236.6,1371.4 L239.6,1372.1 L242.6,1372.8 L245.6,1373.5 L248.6,1374.2 L251.6,1374.9 L254.6,1375.7 L257.6,1376.5 L260.7,1377.3 L263.7,1378.1 L266.7,1378.9 L269.7,1379.8 L272.7,1380.7 L275.7,1381.5 L278.7,1382.4 L281.7,1383.3 L284.7,1384.3 L287.7,1385.2 L290.7,1386.1 L293.7,1387.1 L296.7,1388.1 L299.7,1389.0 L302.7,1390.0 L305.7,1391.0 L308.7,1392.1 L311.7,1393.1 L314.7,1394.1 L317.8,1395.2 L320.8,1396.2 L323.8,1397.3 L326.8,1398.3 L329.8,1399.4 L332.8,1400.5 L335.8,1401.5 L338.8,1402.6 L341.8,1403.7 L344.8,1404.8 L347.8,1405.9 L350.8,1407.0 L353.8,1408.1 L356.8,1409.2 L359.8,1410.3 L362.8,1411.4 L365.8,1412.5 L368.8,1413.6 L371.9,1414.7 L374.9,1415.9 L377.9,1417.0 L380.9,1418.1 L383.9,1419.2 L386.9,1420.3 L389.9,1421.5 L392.9,1422.6 L395.9,1423.7 L398.9,1424.8 L401.9,1426.0 L404.9,1427.1 L407.9,1428.2 L410.9,1429.4 L413.9,1430.5 L416.9,1431.6 L419.9,1432.8 L422.9,1433.9 L426.0,1435.1 L429.0,1436.2 L432.0,1437.3 L435.0,1438.5 L438.0,1439.6 L441.0,1440.8 L444.0,1441.9 L447.0,1443.1 L450.0,1444.2 L453.0,1445.4 L456.0,1446.6 L459.0,1447.7 L462.0,1448.9 L465.0,1450.0 L468.0,1451.2 L471.0,1452.3 L474.0,1453.5 L477.0,1454.7 L480.0,1455.8 L483.1,1457.0 L486.1,1458.2 L489.1,1459.4 L492.1,1460.5 L495.1,1461.7 L498.1,1462.9 L501.1,1464.0 L504.1,1465.2 L507.1,1466.4 L510.1,1467.6 L513.1,1468.8 L516.1,1469.9 L519.1,1471.1 L522.1,1472.3 L525.1,1473.5 L528.1,1474.7 L531.1,1475.9 L534.1,1477.0 L537.2,1478.2 L540.2,1479.4 L543.2,1480.6 L546.2,1481.8 L549.2,1483.0 L552.2,1484.2 L555.2,1485.4 L558.2,1486.6 L561.2,1487.8 L564.2,1489.0 L567.2,1490.2 L570.2,1491.4 L573.2,1492.6 L576.2,1493.8 L579.2,1495.0 L582.2,1496.2 L585.2,1497.4 L588.2,1498.6 L591.2,1499.8 L594.3,1501.0 L597.3,1502.2 L600.3,1503.4 L603.3,1504.7 L606.3,1505.9 L609.3,1507.1 L612.3,1508.3 L615.3,1509.5 L618.3,1510.7 L621.3,1511.9 L624.3,1513.2 L627.3,1514.4 L630.3,1515.6 L633.3,1516.8 L636.3,1518.0 L639.3,1519.3 L642.3,1520.5 L645.3,1521.7 L648.4,1522.9 L651.4,1524.2 L654.4,1525.4 L657.4,1526.6 L660.4,1527.9 L663.4,1529.1 L666.4,1530.3 L669.4,1531.5 L672.4,1532.8 L675.4,1534.0 L678.4,1535.3 L681.4,1536.5 L684.4,1537.7 L687.4,1539.0 L690.4,1540.2 L693.4,1541.4 L696.4,1542.7 L699.4,1543.9 L702.5,1545.2 L705.5,1546.4 L708.5,1547.7 L711.5,1548.9 L714.5,1550.2 L717.5,1551.4 L720.5,1552.7 L723.5,1553.9 L726.5,1555.2 L729.5,1556.4 L732.5,1557.7 L735.5,1558.9 L738.5,1560.2 L741.5,1561.5 L744.5,1562.7 L747.5,1564.0 L750.5,1565.2 L753.5,1566.5 L756.5,1567.8 L759.6,1569.0 L762.6,1570.3 L765.6,1571.6 L768.6,1572.8 L771.6,1574.1 L774.6,1575.4 L777.6,1576.6 L780.6,1577.9 L783.6,1579.2 L786.6,1580.5 L789.6,1581.7 L792.6,1583.0 L795.6,1584.3 L798.6,1585.6 L801.6,1586.8 L804.6,1588.1 L807.6,1589.4 L810.6,1590.7 L813.7,1592.0 L816.7,1593.3 L819.7,1594.5 L822.7,1595.8 L825.7,1597.1 L828.7,1598.4 L831.7,1599.7 L834.7,1601.0 L837.7,1602.3 L840.7,1603.6 L843.7,1604.9 L846.7,1606.2 L849.7,1607.5 L852.7,1608.8 L855.7,1610.1 L858.7,1611.4 L861.7,1612.7 L864.7,1614.0 L867.8,1615.3 L870.8,1616.6 L873.8,1617.9 L876.8,1619.2 L879.8,1620.5 L882.8,1621.8 L885.8,1623.1 L888.8,1624.4 L891.8,1625.7 L894.8,1627.0" fill="none" stroke="#008080" stroke-width="4.0" stroke-dasharray="14 5.7" stroke-linejoin="round"/></g>
<rect x="124.5" y="1318.5" width="770.50" height="476.00" fill="none" stroke="#6b6b6b" stroke-width="1"/>
<line x1="124.40" y1="1793.6" x2="124.40" y2="1789.3999999999999" stroke="#6b6b6b" stroke-width="1"/><line x1="124.40" y1="1318.2" x2="124.40" y2="1322.4" stroke="#6b6b6b" stroke-width="1"/><line x1="177.17" y1="1793.6" x2="177.17" y2="1789.3999999999999" stroke="#6b6b6b" stroke-width="1"/><line x1="177.17" y1="1318.2" x2="177.17" y2="1322.4" stroke="#6b6b6b" stroke-width="1"/><line x1="218.11" y1="1793.6" x2="218.11" y2="1786.1" stroke="#6b6b6b" stroke-width="1"/><line x1="218.11" y1="1318.2" x2="218.11" y2="1325.7" stroke="#6b6b6b" stroke-width="1"/><line x1="251.55" y1="1793.6" x2="251.55" y2="1789.3999999999999" stroke="#6b6b6b" stroke-width="1"/><line x1="251.55" y1="1318.2" x2="251.55" y2="1322.4" stroke="#6b6b6b" stroke-width="1"/><line x1="279.83" y1="1793.6" x2="279.83" y2="1789.3999999999999" stroke="#6b6b6b" stroke-width="1"/><line x1="279.83" y1="1318.2" x2="279.83" y2="1322.4" stroke="#6b6b6b" stroke-width="1"/><line x1="304.32" y1="1793.6" x2="304.32" y2="1789.3999999999999" stroke="#6b6b6b" stroke-width="1"/><line x1="304.32" y1="1318.2" x2="304.32" y2="1322.4" stroke="#6b6b6b" stroke-width="1"/><line x1="325.93" y1="1793.6" x2="325.93" y2="1789.3999999999999" stroke="#6b6b6b" stroke-width="1"/><line x1="325.93" y1="1318.2" x2="325.93" y2="1322.4" stroke="#6b6b6b" stroke-width="1"/><line x1="345.26" y1="1793.6" x2="345.26" y2="1786.1" stroke="#6b6b6b" stroke-width="1"/><line x1="345.26" y1="1318.2" x2="345.26" y2="1325.7" stroke="#6b6b6b" stroke-width="1"/><line x1="472.41" y1="1793.6" x2="472.41" y2="1789.3999999999999" stroke="#6b6b6b" stroke-width="1"/><line x1="472.41" y1="1318.2" x2="472.41" y2="1322.4" stroke="#6b6b6b" stroke-width="1"/><line x1="546.79" y1="1793.6" x2="546.79" y2="1789.3999999999999" stroke="#6b6b6b" stroke-width="1"/><line x1="546.79" y1="1318.2" x2="546.79" y2="1322.4" stroke="#6b6b6b" stroke-width="1"/><line x1="599.56" y1="1793.6" x2="599.56" y2="1789.3999999999999" stroke="#6b6b6b" stroke-width="1"/><line x1="599.56" y1="1318.2" x2="599.56" y2="1322.4" stroke="#6b6b6b" stroke-width="1"/><line x1="640.50" y1="1793.6" x2="640.50" y2="1786.1" stroke="#6b6b6b" stroke-width="1"/><line x1="640.50" y1="1318.2" x2="640.50" y2="1325.7" stroke="#6b6b6b" stroke-width="1"/><line x1="673.94" y1="1793.6" x2="673.94" y2="1789.3999999999999" stroke="#6b6b6b" stroke-width="1"/><line x1="673.94" y1="1318.2" x2="673.94" y2="1322.4" stroke="#6b6b6b" stroke-width="1"/><line x1="702.22" y1="1793.6" x2="702.22" y2="1789.3999999999999" stroke="#6b6b6b" stroke-width="1"/><line x1="702.22" y1="1318.2" x2="702.22" y2="1322.4" stroke="#6b6b6b" stroke-width="1"/><line x1="726.71" y1="1793.6" x2="726.71" y2="1789.3999999999999" stroke="#6b6b6b" stroke-width="1"/><line x1="726.71" y1="1318.2" x2="726.71" y2="1322.4" stroke="#6b6b6b" stroke-width="1"/><line x1="748.32" y1="1793.6" x2="748.32" y2="1789.3999999999999" stroke="#6b6b6b" stroke-width="1"/><line x1="748.32" y1="1318.2" x2="748.32" y2="1322.4" stroke="#6b6b6b" stroke-width="1"/><line x1="767.65" y1="1793.6" x2="767.65" y2="1786.1" stroke="#6b6b6b" stroke-width="1"/><line x1="767.65" y1="1318.2" x2="767.65" y2="1325.7" stroke="#6b6b6b" stroke-width="1"/><line x1="894.80" y1="1793.6" x2="894.80" y2="1789.3999999999999" stroke="#6b6b6b" stroke-width="1"/><line x1="894.80" y1="1318.2" x2="894.80" y2="1322.4" stroke="#6b6b6b" stroke-width="1"/><line x1="124.4" y1="1793.60" x2="131.9" y2="1793.60" stroke="#6b6b6b" stroke-width="1"/><line x1="894.8" y1="1793.60" x2="887.3" y2="1793.60" stroke="#6b6b6b" stroke-width="1"/><line x1="124.4" y1="1752.44" x2="128.6" y2="1752.44" stroke="#6b6b6b" stroke-width="1"/><line x1="894.8" y1="1752.44" x2="890.5999999999999" y2="1752.44" stroke="#6b6b6b" stroke-width="1"/><line x1="124.4" y1="1728.37" x2="128.6" y2="1728.37" stroke="#6b6b6b" stroke-width="1"/><line x1="894.8" y1="1728.37" x2="890.5999999999999" y2="1728.37" stroke="#6b6b6b" stroke-width="1"/><line x1="124.4" y1="1711.28" x2="128.6" y2="1711.28" stroke="#6b6b6b" stroke-width="1"/><line x1="894.8" y1="1711.28" x2="890.5999999999999" y2="1711.28" stroke="#6b6b6b" stroke-width="1"/><line x1="124.4" y1="1698.04" x2="131.9" y2="1698.04" stroke="#6b6b6b" stroke-width="1"/><line x1="894.8" y1="1698.04" x2="887.3" y2="1698.04" stroke="#6b6b6b" stroke-width="1"/><line x1="124.4" y1="1687.21" x2="128.6" y2="1687.21" stroke="#6b6b6b" stroke-width="1"/><line x1="894.8" y1="1687.21" x2="890.5999999999999" y2="1687.21" stroke="#6b6b6b" stroke-width="1"/><line x1="124.4" y1="1678.06" x2="128.6" y2="1678.06" stroke="#6b6b6b" stroke-width="1"/><line x1="894.8" y1="1678.06" x2="890.5999999999999" y2="1678.06" stroke="#6b6b6b" stroke-width="1"/><line x1="124.4" y1="1670.13" x2="128.6" y2="1670.13" stroke="#6b6b6b" stroke-width="1"/><line x1="894.8" y1="1670.13" x2="890.5999999999999" y2="1670.13" stroke="#6b6b6b" stroke-width="1"/><line x1="124.4" y1="1663.13" x2="128.6" y2="1663.13" stroke="#6b6b6b" stroke-width="1"/><line x1="894.8" y1="1663.13" x2="890.5999999999999" y2="1663.13" stroke="#6b6b6b" stroke-width="1"/><line x1="124.4" y1="1656.88" x2="131.9" y2="1656.88" stroke="#6b6b6b" stroke-width="1"/><line x1="894.8" y1="1656.88" x2="887.3" y2="1656.88" stroke="#6b6b6b" stroke-width="1"/><line x1="124.4" y1="1615.72" x2="128.6" y2="1615.72" stroke="#6b6b6b" stroke-width="1"/><line x1="894.8" y1="1615.72" x2="890.5999999999999" y2="1615.72" stroke="#6b6b6b" stroke-width="1"/><line x1="124.4" y1="1591.64" x2="128.6" y2="1591.64" stroke="#6b6b6b" stroke-width="1"/><line x1="894.8" y1="1591.64" x2="890.5999999999999" y2="1591.64" stroke="#6b6b6b" stroke-width="1"/><line x1="124.4" y1="1574.56" x2="128.6" y2="1574.56" stroke="#6b6b6b" stroke-width="1"/><line x1="894.8" y1="1574.56" x2="890.5999999999999" y2="1574.56" stroke="#6b6b6b" stroke-width="1"/><line x1="124.4" y1="1561.31" x2="131.9" y2="1561.31" stroke="#6b6b6b" stroke-width="1"/><line x1="894.8" y1="1561.31" x2="887.3" y2="1561.31" stroke="#6b6b6b" stroke-width="1"/><line x1="124.4" y1="1550.49" x2="128.6" y2="1550.49" stroke="#6b6b6b" stroke-width="1"/><line x1="894.8" y1="1550.49" x2="890.5999999999999" y2="1550.49" stroke="#6b6b6b" stroke-width="1"/><line x1="124.4" y1="1541.33" x2="128.6" y2="1541.33" stroke="#6b6b6b" stroke-width="1"/><line x1="894.8" y1="1541.33" x2="890.5999999999999" y2="1541.33" stroke="#6b6b6b" stroke-width="1"/><line x1="124.4" y1="1533.41" x2="128.6" y2="1533.41" stroke="#6b6b6b" stroke-width="1"/><line x1="894.8" y1="1533.41" x2="890.5999999999999" y2="1533.41" stroke="#6b6b6b" stroke-width="1"/><line x1="124.4" y1="1526.41" x2="128.6" y2="1526.41" stroke="#6b6b6b" stroke-width="1"/><line x1="894.8" y1="1526.41" x2="890.5999999999999" y2="1526.41" stroke="#6b6b6b" stroke-width="1"/><line x1="124.4" y1="1520.16" x2="131.9" y2="1520.16" stroke="#6b6b6b" stroke-width="1"/><line x1="894.8" y1="1520.16" x2="887.3" y2="1520.16" stroke="#6b6b6b" stroke-width="1"/><line x1="124.4" y1="1479.00" x2="128.6" y2="1479.00" stroke="#6b6b6b" stroke-width="1"/><line x1="894.8" y1="1479.00" x2="890.5999999999999" y2="1479.00" stroke="#6b6b6b" stroke-width="1"/><line x1="124.4" y1="1454.92" x2="128.6" y2="1454.92" stroke="#6b6b6b" stroke-width="1"/><line x1="894.8" y1="1454.92" x2="890.5999999999999" y2="1454.92" stroke="#6b6b6b" stroke-width="1"/><line x1="124.4" y1="1437.84" x2="128.6" y2="1437.84" stroke="#6b6b6b" stroke-width="1"/><line x1="894.8" y1="1437.84" x2="890.5999999999999" y2="1437.84" stroke="#6b6b6b" stroke-width="1"/><line x1="124.4" y1="1424.59" x2="131.9" y2="1424.59" stroke="#6b6b6b" stroke-width="1"/><line x1="894.8" y1="1424.59" x2="887.3" y2="1424.59" stroke="#6b6b6b" stroke-width="1"/><line x1="124.4" y1="1413.76" x2="128.6" y2="1413.76" stroke="#6b6b6b" stroke-width="1"/><line x1="894.8" y1="1413.76" x2="890.5999999999999" y2="1413.76" stroke="#6b6b6b" stroke-width="1"/><line x1="124.4" y1="1404.61" x2="128.6" y2="1404.61" stroke="#6b6b6b" stroke-width="1"/><line x1="894.8" y1="1404.61" x2="890.5999999999999" y2="1404.61" stroke="#6b6b6b" stroke-width="1"/><line x1="124.4" y1="1396.68" x2="128.6" y2="1396.68" stroke="#6b6b6b" stroke-width="1"/><line x1="894.8" y1="1396.68" x2="890.5999999999999" y2="1396.68" stroke="#6b6b6b" stroke-width="1"/><line x1="124.4" y1="1389.69" x2="128.6" y2="1389.69" stroke="#6b6b6b" stroke-width="1"/><line x1="894.8" y1="1389.69" x2="890.5999999999999" y2="1389.69" stroke="#6b6b6b" stroke-width="1"/><line x1="124.4" y1="1383.43" x2="131.9" y2="1383.43" stroke="#6b6b6b" stroke-width="1"/><line x1="894.8" y1="1383.43" x2="887.3" y2="1383.43" stroke="#6b6b6b" stroke-width="1"/><line x1="124.4" y1="1342.28" x2="128.6" y2="1342.28" stroke="#6b6b6b" stroke-width="1"/><line x1="894.8" y1="1342.28" x2="890.5999999999999" y2="1342.28" stroke="#6b6b6b" stroke-width="1"/><line x1="124.4" y1="1318.20" x2="128.6" y2="1318.20" stroke="#6b6b6b" stroke-width="1"/><line x1="894.8" y1="1318.20" x2="890.5999999999999" y2="1318.20" stroke="#6b6b6b" stroke-width="1"/>
<g font-family='"Liberation Sans", sans-serif' font-size="22" fill="#000"><text x="216.7" y="1819.6" text-anchor="middle">5</text><text x="343.9" y="1819.6" text-anchor="middle">10</text><text x="639.1" y="1819.6" text-anchor="middle">50</text><text x="766.2" y="1819.6" text-anchor="middle">100</text><text x="50.4" y="1392.4" text-anchor="end">1</text><text x="56.9" y="1391.2" font-size="20">×</text><text x="72.5" y="1392.4">10</text><text x="113.9" y="1383.1" font-size="16" text-anchor="end">15</text><text x="50.4" y="1433.6" text-anchor="end">5</text><text x="56.9" y="1432.4" font-size="20">×</text><text x="72.5" y="1433.6">10</text><text x="113.9" y="1424.3" font-size="16" text-anchor="end">14</text><text x="50.4" y="1529.2" text-anchor="end">1</text><text x="56.9" y="1527.9" font-size="20">×</text><text x="72.5" y="1529.2">10</text><text x="113.9" y="1519.9" font-size="16" text-anchor="end">14</text><text x="50.4" y="1570.3" text-anchor="end">5</text><text x="56.9" y="1569.1" font-size="20">×</text><text x="72.5" y="1570.3">10</text><text x="113.9" y="1561.0" font-size="16" text-anchor="end">13</text><text x="50.4" y="1665.9" text-anchor="end">1</text><text x="56.9" y="1664.6" font-size="20">×</text><text x="72.5" y="1665.9">10</text><text x="113.9" y="1656.6" font-size="16" text-anchor="end">13</text><text x="50.4" y="1707.0" text-anchor="end">5</text><text x="56.9" y="1705.8" font-size="20">×</text><text x="72.5" y="1707.0">10</text><text x="113.9" y="1697.7" font-size="16" text-anchor="end">12</text><text x="50.4" y="1802.6" text-anchor="end">1</text><text x="56.9" y="1801.4" font-size="20">×</text><text x="72.5" y="1802.6">10</text><text x="113.9" y="1793.3" font-size="16" text-anchor="end">12</text></g>
<text x="483.2" y="1862.2" font-family='"Liberation Sans", sans-serif' font-size="22">R/<tspan font-style="italic">R</tspan><tspan font-style="italic" font-size="16" dy="4.2">g</tspan></text>
<text transform="translate(18,1579.8) rotate(-90)" font-family='"Liberation Sans", sans-serif' font-size="22.5">B[G]</text>
<g font-family='"Liberation Sans", sans-serif' font-size="28" fill="#000" class="tt"><text x="445.33" y="1297.5" font-style="italic">M</text><rect x="455.50" y="1270.80" width="3" height="3" fill="#000"/><text x="467.83" y="1299.0">=</text><text transform="translate(483.20,1297.5) scale(0.892,1)" x="0" y="0">10</text><text x="512.23" y="1297.5" font-style="italic">M</text><circle cx="541.30" cy="1303.90" r="6.0" fill="none" stroke="#000" stroke-width="1.3"/><circle cx="541.30" cy="1303.90" r="1.6" fill="#000"/><text x="550.00" y="1297.5">/s</text></g>
<line x1="713" y1="1386.5" x2="761.8" y2="1386.5" stroke="#000" stroke-width="4.3"/>
<line x1="711.2" y1="1440.3" x2="747.7" y2="1440.3" stroke="#000" stroke-width="2" stroke-dasharray="11 2"/>
<text x="772.6999999999999" y="1394" font-family='"Liberation Sans", sans-serif' font-size="22">VSGM</text>
<text x="768.0" y="1447.9" font-family='"Liberation Sans", sans-serif' font-size="22">M</text>
</g>
</svg>
</body></html>
